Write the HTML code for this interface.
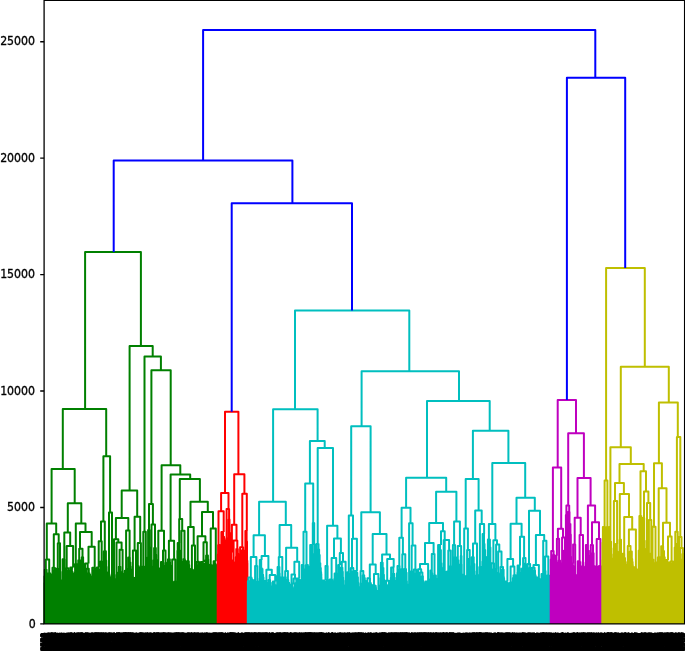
<!DOCTYPE html><html><head><meta charset="utf-8"><style>html,body{margin:0;padding:0;background:#fff;}body{width:685px;height:651px;overflow:hidden;}svg{display:block;}.t{font-family:"DejaVu Sans","Liberation Sans",sans-serif;}</style></head><body><svg width="685" height="651" viewBox="0 0 685 651"><rect width="685" height="651" fill="#fff"/><path fill="none" stroke="#008000" stroke-width="2.0" stroke-linejoin="round" d="M85.1 408.9V251.9H140.9V345.9M62.8 468.9V408.9H106.2V456.3M129.6 490.5V345.9H152.7V356.5M144.5 531.7V356.5H160.9V370.3M151.4 503.9V370.3H170.7V465.3M103.4 521.6V456.3H110.1V512.6M51.6 523.6V468.9H74.7V503.2M161.6 530.7V465.3H180.3V474.4M170.6 540.8V474.4H190.2V479M179.8 519.1V479H199.9V501.8M67.8 532.6V503.2H81.3V523.6M46.8 559.6V523.6H56.2V534.2M75.8 564V523.6H85.5V532M101 541.2V521.6H104.8V551.2M109 572.8V512.6H112V577.6M121.7 518.1V490.5H137.2V516.7M115.9 539.3V518.1H128.3V530.5M134.6 550.4V516.7H140.2V543M149 530V503.9H152.9V524.6M151.5 573.9V524.6H155V548M190.5 527V501.8H207.8V511.9M202 536.2V511.9H213V528.5M179.2 542.9V519.1H182.2V530.7M188.1 561.3V527H193.7V545.5M210.7 565V528.5H215.8V561.3M64.3 559.3V532.6H70.2V546M80 548.8V532H91.7V546.7M88.5 563.5V546.7H94.7V567.8M53.8 567.8V534.2H58.7V543.2M57.8 568.8V543.2H60V580.2M45.8 569.8V559.6H49.2V573.2M66.7 568.3V546H73.1V567.5M98.7 567.4V541.2H101.7V561.4M114 574.8V539.3H118.3V542.4M116.5 582.6V542.4H121.6V549.8M119.6 566.8V549.8H122.6V577.8M126.1 570.8V530.5H129.6V557.6M132.9 577.2V550.4H136V579.9M137.8 566.1V543H140.9V575.2M143.3 566.4V531.7H145.8V579.2M158.3 568V530.7H164V550.4M163 561.9V550.4H165.5V572.9M168.9 559.3V540.8H174.1V559.6M172.2 583.3V559.6H175.3V581.5M181.4 561.7V530.7H184.5V559M191.9 569.3V545.5H195V570.4M197.6 561.7V536.2H205.4V542.3M203.5 562V542.3H206.8V555.4M44.3 623.9V582.8H44.6V623.9M45.5 623.9V584.5H45.8V623.9M45.2 623.9V581.8H45.6V584.5M44.9 623.9V580.6H45.4V581.8M44.4 582.8V576.3H45.1V580.6M46.1 623.9V586.3H46.4V623.9M47 623.9V584.8H47.3V623.9M46.7 623.9V583.7H47.2V584.8M46.3 586.3V573.9H47V583.7M44.8 576.3V569.8H46.6V573.9M47.7 623.9V585H48V623.9M48.6 623.9V585.7H48.9V623.9M48.3 623.9V583.9H48.7V585.7M47.8 585V580.4H48.5V583.9M49.8 623.9V587.4H50.1V623.9M49.5 623.9V585.4H50V587.4M49.2 623.9V583.8H49.7V585.4M50.4 623.9V584.6H50.7V623.9M51 623.9V583.7H51.3V623.9M50.6 584.6V580.4H51.2V583.7M49.5 583.8V575.9H50.9V580.4M48.2 580.4V573.2H50.2V575.9M52.3 623.9V584.1H52.6V623.9M52 623.9V580.4H52.4V584.1M51.7 623.9V579.9H52.2V580.4M53.5 623.9V583.1H53.8V623.9M53.2 623.9V581.4H53.6V583.1M52.9 623.9V576.2H53.4V581.4M51.9 579.9V574.5H53.2V576.2M54.4 623.9V584H54.7V623.9M54.1 623.9V583.1H54.6V584M55.3 623.9V586.3H55.6V623.9M55 623.9V581.6H55.5V586.3M54.3 583.1V570.1H55.3V581.6M52.5 574.5V567.8H54.8V570.1M56.9 623.9V588.2H57.2V623.9M56.6 623.9V586.5H57V588.2M56.3 623.9V580.4H56.8V586.5M56 623.9V578.3H56.5V580.4M57.8 623.9V584.6H58.1V623.9M57.5 623.9V583.2H58V584.6M58.4 623.9V581.2H58.7V623.9M57.7 583.2V577H58.6V581.2M56.2 578.3V568.8H58.2V577M59.7 623.9V589.5H60V623.9M59.4 623.9V587.5H59.9V589.5M59.1 623.9V586.5H59.6V587.5M60.4 623.9V588.2H60.7V623.9M61 623.9V590.5H61.3V623.9M61.7 623.9V588.6H62V623.9M61.2 590.5V587.3H61.8V588.6M60.5 588.2V583.8H61.5V587.3M59.3 586.5V580.2H61V583.8M63.2 623.9V582.1H63.5V623.9M62.9 623.9V580.9H63.4V582.1M62.6 623.9V576.7H63.1V580.9M62.3 623.9V571.8H62.9V576.7M64.1 623.9V586.4H64.4V623.9M63.8 623.9V582.9H64.3V586.4M65 623.9V580.1H65.3V623.9M64.7 623.9V573.6H65.2V580.1M64.1 582.9V568.6H65V573.6M62.6 571.8V559.3H64.5V568.6M66 623.9V585.2H66.3V623.9M66.6 623.9V585.1H66.9V623.9M66.1 585.2V581.6H66.8V585.1M65.7 623.9V575.7H66.4V581.6M67.5 623.9V583.1H67.9V623.9M67.2 623.9V582.7H67.7V583.1M68.5 623.9V586.8H68.8V623.9M68.2 623.9V582.9H68.6V586.8M69.4 623.9V584.1H69.7V623.9M69.1 623.9V580.3H69.6V584.1M68.4 582.9V578.8H69.4V580.3M67.5 582.7V570.7H68.9V578.8M66 575.7V568.3H68.2V570.7M70.4 623.9V582.3H70.7V623.9M70.1 623.9V579.4H70.5V582.3M71.6 623.9V586H71.9V623.9M71.3 623.9V583.6H71.7V586M71 623.9V579.5H71.5V583.6M72.8 623.9V588H73.1V623.9M73.4 623.9V585.6H73.7V623.9M74 623.9V585.2H74.3V623.9M73.5 585.6V582.6H74.1V585.2M72.9 588V580.1H73.8V582.6M72.5 623.9V578.4H73.4V580.1M72.2 623.9V573.6H72.9V578.4M71.2 579.5V572H72.6V573.6M70.3 579.4V567.5H71.9V572M73.1 567.5H71.1M74.6 623.9V581.3H74.9V623.9M75.5 623.9V585.3H75.9V623.9M75.2 623.9V580H75.7V585.3M74.8 581.3V572.9H75.5V580M76.2 623.9V583.4H76.5V623.9M77.4 623.9V586.2H77.7V623.9M77.1 623.9V580.4H77.6V586.2M76.8 623.9V574.2H77.4V580.4M76.3 583.4V569.7H77.1V574.2M75.1 572.9V564H76.7V569.7M78.7 623.9V581.5H79V623.9M78.4 623.9V577.7H78.9V581.5M78.1 623.9V574H78.6V577.7M79.6 623.9V586.1H80V623.9M79.3 623.9V580.6H79.8V586.1M80.9 623.9V583.5H81.2V623.9M80.6 623.9V579.1H81.1V583.5M80.3 623.9V573.3H80.8V579.1M79.6 580.6V570.5H80.6V573.3M78.3 574V560.3H80.1V570.5M81.9 623.9V578.7H82.2V623.9M81.6 623.9V575H82V578.7M82.5 623.9V579.5H82.8V623.9M83.1 623.9V581.5H83.5V623.9M83.8 623.9V581.1H84.1V623.9M83.3 581.5V576H83.9V581.1M82.7 579.5V569.8H83.6V576M81.8 575V557.3H83.1V569.8M79.2 560.3V548.8H82.5V557.3M84.7 623.9V586.2H85V623.9M84.4 623.9V583.1H84.9V586.2M85.3 623.9V581.3H85.6V623.9M84.6 583.1V580.3H85.5V581.3M85.9 623.9V583H86.2V623.9M86.5 623.9V583.6H86.9V623.9M87.5 623.9V585.1H87.8V623.9M87.2 623.9V583.3H87.6V585.1M86.7 583.6V580.8H87.4V583.3M86.1 583V576.7H87V580.8M88.4 623.9V584.7H88.7V623.9M89 623.9V583.7H89.3V623.9M88.5 584.7V580.3H89.1V583.7M89.9 623.9V584.7H90.2V623.9M90.5 623.9V586.8H90.8V623.9M91.1 623.9V586.2H91.4V623.9M90.7 586.8V583.2H91.3V586.2M90.1 584.7V579.6H91V583.2M89.6 623.9V578.9H90.5V579.6M88.8 580.3V574.8H90.1V578.9M88.1 623.9V573.2H89.5V574.8M86.6 576.7V568.8H88.8V573.2M85.1 580.3V563.5H87.7V568.8M88.5 563.5H86.4M91.8 623.9V587H92.1V623.9M93.4 623.9V585.9H93.7V623.9M93 623.9V584.7H93.5V585.9M92.7 623.9V582.5H93.3V584.7M92.4 623.9V581.7H93V582.5M91.9 587V576.6H92.7V581.7M94.6 623.9V583.5H94.9V623.9M94.3 623.9V579.4H94.8V583.5M94 623.9V578.2H94.5V579.4M96.2 623.9V585.1H96.5V623.9M95.9 623.9V584H96.4V585.1M95.6 623.9V581.4H96.1V584M95.3 623.9V574.7H95.9V581.4M94.3 578.2V569.4H95.6V574.7M92.3 576.6V567.8H94.9V569.4M97.5 623.9V583.4H97.8V623.9M97.2 623.9V573.8H97.7V583.4M98.5 623.9V583.8H98.8V623.9M98.1 623.9V578.2H98.6V583.8M99.7 623.9V584.9H100V623.9M99.4 623.9V580.5H99.9V584.9M99.1 623.9V578.1H99.6V580.5M98.4 578.2V572.8H99.4V578.1M97.4 573.8V569.2H98.9V572.8M96.9 623.9V567.4H98.1V569.2M98.7 567.4H97.5M101 623.9V580.5H101.3V623.9M100.7 623.9V577.2H101.1V580.5M100.4 623.9V576.5H100.9V577.2M102.2 623.9V586.3H102.5V623.9M101.9 623.9V580.7H102.3V586.3M102.8 623.9V579.2H103.1V623.9M102.1 580.7V575.1H102.9V579.2M101.6 623.9V573.5H102.5V575.1M100.6 576.5V561.4H102V573.5M104 623.9V587.2H104.3V623.9M103.7 623.9V584.3H104.2V587.2M104.9 623.9V582.4H105.2V623.9M104.6 623.9V577.9H105.1V582.4M103.9 584.3V572.2H104.8V577.9M103.4 623.9V568.6H104.4V572.2M105.8 623.9V581.3H106.1V623.9M106.4 623.9V578H106.7V623.9M106 581.3V566.7H106.6V578M105.5 623.9V560.4H106.3V566.7M103.9 568.6V551.2H105.9V560.4M107.4 623.9V579.6H107.7V623.9M107.1 623.9V578.3H107.5V579.6M108 623.9V577.7H108.2V623.9M107.3 578.3V575H108.1V577.7M108.5 623.9V579.6H108.9V623.9M110 623.9V580.8H110.3V623.9M109.8 623.9V578.1H110.2V580.8M109.5 623.9V578H110V578.1M109.2 623.9V575.8H109.7V578M108.7 579.6V574.6H109.4V575.8M107.7 575V572.8H109.1V574.6M111.3 623.9V580.4H111.6V623.9M111 623.9V579.8H111.4V580.4M112.5 623.9V580.1H112.8V623.9M112.2 623.9V579.3H112.7V580.1M111.9 623.9V579H112.5V579.3M111.2 579.8V578.3H112.2V579M110.7 623.9V577.6H111.7V578.3M112 577.6H111.2M113.2 623.9V581H113.5V623.9M113.8 623.9V582H114.1V623.9M114.8 623.9V581H115.1V623.9M114.4 623.9V579.3H114.9V581M114 582V578.9H114.7V579.3M113.3 581V574.8H114.3V578.9M116 623.9V583.2H116.3V623.9M115.7 623.9V583H116.2V583.2M115.4 623.9V582.7H116V583M117.6 623.9V583.4H117.9V623.9M117.3 623.9V583.1H117.7V583.4M117 623.9V583H117.5V583.1M116.7 623.9V582.7H117.2V583M115.7 582.7V582.6H116.9V582.7M118.5 623.9V580.1H118.8V623.9M118.2 623.9V577.2H118.7V580.1M119.4 623.9V579.2H119.7V623.9M119.1 623.9V575.2H119.6V579.2M118.4 577.2V572.5H119.3V575.2M120.6 623.9V577.5H120.9V623.9M120.3 623.9V576.9H120.8V577.5M120 623.9V571.4H120.6V576.9M118.9 572.5V566.8H120.3V571.4M122.2 623.9V578.6H122.6V623.9M121.9 623.9V578.6H122.4V578.6M121.6 623.9V578.4H122.2V578.6M121.3 623.9V578.2H121.9V578.4M122.9 623.9V578.6H123.2V623.9M123.9 623.9V578.7H124.2V623.9M123.5 623.9V578.6H124V578.7M123 578.6V578.1H123.8V578.6M121.6 578.2V577.8H123.4V578.1M124.8 623.9V575.5H125.1V623.9M125.5 623.9V574.6H125.8V623.9M125 575.5V573.9H125.6V574.6M124.5 623.9V573.4H125.3V573.9M126.4 623.9V574.6H126.7V623.9M127.4 623.9V575H127.7V623.9M127.1 623.9V573.4H127.5V575M126.6 574.6V572.8H127.3V573.4M126.1 623.9V571.7H126.9V572.8M124.9 573.4V570.8H126.5V571.7M128.3 623.9V570.6H128.6V623.9M128 623.9V568.6H128.5V570.6M129.2 623.9V572.8H129.6V623.9M128.9 623.9V569H129.4V572.8M129.9 623.9V569.6H130.2V623.9M130.8 623.9V571.5H131.1V623.9M130.5 623.9V568.9H130.9V571.5M130 569.6V566.5H130.7V568.9M129.2 569V562.5H130.4V566.5M128.2 568.6V557.6H129.8V562.5M132.1 623.9V577.8H132.4V623.9M131.7 623.9V577.8H132.2V577.8M131.4 623.9V577.6H132V577.8M133 623.9V578.1H133.3V623.9M134 623.9V577.9H134.3V623.9M133.6 623.9V577.8H134.1V577.9M133.2 578.1V577.7H133.9V577.8M132.7 623.9V577.4H133.5V577.7M131.7 577.6V577.2H133.1V577.4M134.9 623.9V580.8H135.2V623.9M134.6 623.9V580.6H135.1V580.8M135.8 623.9V580.7H136.1V623.9M135.5 623.9V580.7H136V580.7M136.4 623.9V580.6H136.7V623.9M135.8 580.7V580.1H136.6V580.6M134.8 580.6V579.9H136.2V580.1M137.1 623.9V568.9H137.4V623.9M137.7 623.9V568.4H138V623.9M137.2 568.9V568.2H137.8V568.4M138.9 623.9V569.4H139.2V623.9M138.6 623.9V567.6H139V569.4M138.3 623.9V566.7H138.8V567.6M137.5 568.2V566.1H138.5V566.7M139.8 623.9V576.2H140.1V623.9M140.4 623.9V576H140.7V623.9M140 576.2V575.8H140.6V576M141.6 623.9V576.2H141.9V623.9M141.3 623.9V575.9H141.8V576.2M141 623.9V575.6H141.6V575.9M140.3 575.8V575.5H141.3V575.6M139.5 623.9V575.2H140.8V575.5M140.9 575.2H140.1M142.3 623.9V572.2H142.6V623.9M142.9 623.9V571.1H143.2V623.9M142.4 572.2V569.9H143V571.1M143.5 623.9V571.1H143.8V623.9M144.1 623.9V570H144.4V623.9M143.6 571.1V567.2H144.2V570M142.7 569.9V566.4H143.9V567.2M145 623.9V580.1H145.3V623.9M146 623.9V580.1H146.3V623.9M145.7 623.9V579.9H146.1V580.1M145.2 580.1V579.6H145.9V579.9M146.9 623.9V579.7H147.2V623.9M146.6 623.9V579.5H147.1V579.7M145.5 579.6V579.3H146.8V579.5M144.7 623.9V579.2H146.2V579.3M147.6 623.9V564.1H147.9V623.9M148.5 623.9V565.4H148.8V623.9M148.2 623.9V560H148.7V565.4M147.7 564.1V557.4H148.4V560M149.8 623.9V574.4H150.1V623.9M149.5 623.9V562.7H149.9V574.4M149.1 623.9V547.4H149.7V562.7M148.1 557.4V530H149.4V547.4M151 623.9V574.9H151.3V623.9M150.7 623.9V574.4H151.2V574.9M151.9 623.9V574.7H152.2V623.9M151.6 623.9V574.6H152.1V574.7M152.8 623.9V574.7H153.1V623.9M152.5 623.9V574.5H152.9V574.7M151.8 574.6V574.3H152.7V574.5M150.9 574.4V574.1H152.3V574.3M150.4 623.9V573.9H151.6V574.1M153.7 623.9V569.9H154V623.9M153.4 623.9V566.3H153.9V569.9M154.6 623.9V566.6H154.9V623.9M154.3 623.9V560.8H154.8V566.6M153.6 566.3V560.2H154.6V560.8M155.3 623.9V565.9H155.6V623.9M156.2 623.9V566.7H156.5V623.9M155.9 623.9V559.5H156.3V566.7M155.4 565.9V554.8H156.1V559.5M154.1 560.2V548H155.8V554.8M156.8 623.9V569.6H157.1V623.9M157.4 623.9V569.4H157.7V623.9M157 569.6V569H157.6V569.4M158 623.9V569.2H158.3V623.9M159 623.9V570H159.3V623.9M158.7 623.9V569.8H159.1V570M160.2 623.9V569.9H160.5V623.9M159.9 623.9V569.6H160.3V569.9M159.6 623.9V569.4H160.1V569.6M158.9 569.8V569.1H159.8V569.4M158.2 569.2V568.5H159.4V569.1M157.3 569V568H158.8V568.5M160.8 623.9V569.1H161.1V623.9M161.4 623.9V570.4H161.7V623.9M162 623.9V569.3H162.3V623.9M161.6 570.4V567.2H162.2V569.3M162.9 623.9V569.6H163.2V623.9M162.6 623.9V569.3H163.1V569.6M163.8 623.9V569.1H164.1V623.9M163.5 623.9V568H163.9V569.1M162.8 569.3V565.7H163.7V568M161.8 567.2V562.7H163.3V565.7M161 569.1V561.9H162.6V562.7M163 561.9H161.8M164.7 623.9V573.9H165.1V623.9M165.4 623.9V573.6H165.7V623.9M164.9 573.9V573.5H165.6V573.6M164.4 623.9V573.3H165.2V573.5M166.7 623.9V574H167V623.9M166.4 623.9V573.5H166.9V574M166.1 623.9V573.3H166.6V573.5M164.8 573.3V572.9H166.3V573.3M167.4 623.9V566.8H167.7V623.9M168 623.9V566.4H168.3V623.9M168.9 623.9V568H169.2V623.9M168.6 623.9V565.9H169V568M168.1 566.4V564.6H168.8V565.9M167.5 566.8V562.6H168.5V564.6M170.1 623.9V567.4H170.4V623.9M169.8 623.9V565.2H170.2V567.4M169.5 623.9V562.3H170V565.2M168 562.6V559.3H169.8V562.3M171 623.9V584.1H171.4V623.9M170.7 623.9V583.7H171.2V584.1M172.3 623.9V583.9H172.6V623.9M172 623.9V583.8H172.5V583.9M173.3 623.9V583.9H173.6V623.9M172.9 623.9V583.7H173.4V583.9M172.2 583.8V583.6H173.2V583.7M171.7 623.9V583.4H172.7V583.6M171 583.7V583.3H172.2V583.4M172.2 583.3H171.6M174.5 623.9V582.2H174.9V623.9M174.2 623.9V582.1H174.7V582.2M175.2 623.9V582.1H175.5V623.9M174.5 582.1V582H175.3V582.1M173.9 623.9V581.9H174.9V582M175.8 623.9V582.2H176.1V623.9M176.8 623.9V582.3H177.1V623.9M176.5 623.9V582.1H176.9V582.3M176 582.2V581.7H176.7V582.1M174.4 581.9V581.5H176.3V581.7M178 623.9V567.5H178.3V623.9M177.7 623.9V563.7H178.2V567.5M177.4 623.9V550.7H177.9V563.7M178.6 623.9V569.7H178.9V623.9M179.8 623.9V568.7H180.1V623.9M179.5 623.9V561.9H180V568.7M179.2 623.9V559H179.8V561.9M178.8 569.7V550.6H179.5V559M177.7 550.7V542.9H179.1V550.6M179.2 542.9H178.4M180.5 623.9V571H180.8V623.9M181.1 623.9V566.6H181.5V623.9M180.6 571V565.7H181.3V566.6M181.8 623.9V568.4H182.1V623.9M182.5 623.9V566.5H182.8V623.9M182 568.4V564.3H182.6V566.5M181 565.7V561.7H182.3V564.3M183.1 623.9V568.7H183.4V623.9M183.7 623.9V567.7H184V623.9M183.3 568.7V563.6H183.9V567.7M184.9 623.9V572.3H185.2V623.9M184.6 623.9V569.1H185.1V572.3M185.8 623.9V569.6H186.1V623.9M185.5 623.9V566.8H186V569.6M184.9 569.1V564.9H185.8V566.8M184.3 623.9V560.5H185.3V564.9M183.6 563.6V559H184.8V560.5M186.5 623.9V572.5H186.8V623.9M187.1 623.9V573.3H187.4V623.9M187.7 623.9V571.1H188V623.9M187.2 573.3V570.2H187.8V571.1M186.6 572.5V569.4H187.5V570.2M188.3 623.9V569.1H188.6V623.9M189.5 623.9V574.1H189.8V623.9M189.2 623.9V572.5H189.7V574.1M188.9 623.9V568.8H189.5V572.5M188.5 569.1V564.9H189.2V568.8M187.1 569.4V561.3H188.8V564.9M190.5 623.9V570.1H190.8V623.9M190.2 623.9V569.9H190.6V570.1M191.7 623.9V570.4H192V623.9M191.4 623.9V570.3H191.9V570.4M191.1 623.9V570.2H191.6V570.3M193 623.9V570.2H193.3V623.9M192.7 623.9V570.2H193.1V570.2M192.4 623.9V569.9H192.9V570.2M191.4 570.2V569.6H192.6V569.9M190.4 569.9V569.3H192V569.6M194.6 623.9V575.3H194.9V623.9M194.2 623.9V574.4H194.7V575.3M193.9 623.9V573.6H194.5V574.4M193.6 623.9V573.4H194.2V573.6M195.8 623.9V574.2H196.1V623.9M195.5 623.9V573.3H196V574.2M195.2 623.9V572.2H195.7V573.3M193.9 573.4V570.4H195.5V572.2M196.8 623.9V571.1H197.1V623.9M197.4 623.9V569.8H197.7V623.9M196.9 571.1V569.4H197.5V569.8M196.5 623.9V568.2H197.2V569.4M198.6 623.9V571.5H198.9V623.9M198.3 623.9V570H198.7V571.5M198 623.9V569.4H198.5V570M199.5 623.9V570.8H199.8V623.9M200.1 623.9V569.9H200.4V623.9M199.6 570.8V568.7H200.2V569.9M199.2 623.9V567.5H199.9V568.7M198.2 569.4V565.2H199.6V567.5M196.8 568.2V561.7H198.9V565.2M201 623.9V568.3H201.3V623.9M200.7 623.9V567.7H201.2V568.3M201.6 623.9V569.9H201.9V623.9M202.5 623.9V569.6H202.9V623.9M202.2 623.9V568.8H202.7V569.6M201.8 569.9V567H202.5V568.8M203.2 623.9V568.6H203.5V623.9M204.1 623.9V570.4H204.4V623.9M204.7 623.9V569.9H205V623.9M204.2 570.4V567.8H204.8V569.9M203.8 623.9V566.2H204.5V567.8M203.3 568.6V565.7H204.2V566.2M202.1 567V563.8H203.7V565.7M200.9 567.7V562H202.9V563.8M203.5 562H201.9M205.6 623.9V565.1H205.9V623.9M205.3 623.9V564.8H205.8V565.1M206.2 623.9V565.5H206.5V623.9M206.8 623.9V563.7H207.1V623.9M206.3 565.5V561.1H206.9V563.7M205.5 564.8V560.2H206.7V561.1M207.4 623.9V565.2H207.7V623.9M208.3 623.9V566.6H208.6V623.9M208 623.9V564.1H208.4V566.6M207.6 565.2V559.4H208.2V564.1M206.1 560.2V555.4H207.9V559.4M209.9 623.9V570.9H210.2V623.9M209.6 623.9V570.1H210V570.9M209.2 623.9V569.2H209.8V570.1M208.9 623.9V567.6H209.5V569.2M210.5 623.9V570.5H210.8V623.9M211.2 623.9V569.5H211.5V623.9M210.7 570.5V568.9H211.3V569.5M212.1 623.9V570.8H212.4V623.9M212.8 623.9V570.8H213.1V623.9M212.3 570.8V569.3H212.9V570.8M211.8 623.9V567.8H212.6V569.3M211 568.9V566.7H212.2V567.8M209.2 567.6V565H211.6V566.7M213.4 623.9V565.4H213.7V623.9M214 623.9V568.7H214.3V623.9M214.9 623.9V567.9H215.2V623.9M214.6 623.9V566.7H215.1V567.9M216.1 623.9V568.4H216.4V623.9M215.8 623.9V567.5H216.3V568.4M215.5 623.9V567.1H216.1V567.5M217 623.9V567.7H217.3V623.9M216.7 623.9V567H217.2V567.7M215.8 567.1V565.5H217V567M214.8 566.7V564.9H216.4V565.5M214.2 568.7V563.9H215.6V564.9M213.6 565.4V561.3H214.9V563.9M215.8 561.3H214.2"/><path fill="none" stroke="#ff0000" stroke-width="2.0" stroke-linejoin="round" d="M225 493V411.7H238.4V474.3M234.2 524.8V474.3H244.4V493.8M221.1 511.2V493H228.5V509M218.5 545V511.2H223.7V532M242.3 547.2V493.8H246.8V531M231.9 552.4V524.8H236.5V540.5M233.6 562.7V540.5H237.3V549M240.1 559.3V547.2H243.1V550.3M218 623.9V564.7H218.3V623.9M218.6 623.9V563.6H219V623.9M218.2 564.7V557.9H218.8V563.6M217.7 623.9V554.6H218.5V557.9M220 623.9V567.6H220.3V623.9M219.6 623.9V563.6H220.1V567.6M220.6 623.9V563.2H220.9V623.9M219.9 563.6V558.1H220.8V563.2M219.3 623.9V549.8H220.3V558.1M218.1 554.6V545H219.8V549.8M221.3 623.9V557.6H221.6V623.9M222.6 623.9V565.2H222.9V623.9M222.3 623.9V557.8H222.8V565.2M221.9 623.9V547.4H222.5V557.8M223.3 623.9V553.2H223.6V623.9M223.9 623.9V559.4H224.3V623.9M224.6 623.9V567.2H224.9V623.9M225.6 623.9V562.8H225.9V623.9M225.3 623.9V561.4H225.8V562.8M224.8 567.2V556.4H225.5V561.4M224.1 559.4V550.8H225.1V556.4M223.4 553.2V540.3H224.6V550.8M222.2 547.4V536.7H224V540.3M221.4 557.6V532H223.1V536.7M223.7 532H222.3M228 623.9V567.8H228.3V623.9M227.6 623.9V563.5H228.1V567.8M227.3 623.9V557.5H227.9V563.5M227 623.9V546.6H227.6V557.5M226.6 623.9V542.7H227.3V546.6M226.3 623.9V538.2H226.9V542.7M229 623.9V564.6H229.3V623.9M229.7 623.9V560.6H230V623.9M229.2 564.6V532.7H229.9V560.6M228.7 623.9V519.6H229.5V532.7M226.6 538.2V509H229.1V519.6M230.7 623.9V566.4H231V623.9M232.3 623.9V569.8H232.6V623.9M232 623.9V569.1H232.4V569.8M231.6 623.9V566.9H232.2V569.1M231.3 623.9V564.6H231.9V566.9M230.8 566.4V560H231.6V564.6M230.4 623.9V552.4H231.2V560M231.9 552.4H230.8M233.3 623.9V569.2H233.6V623.9M232.9 623.9V567.9H233.4V569.2M233.9 623.9V568.6H234.3V623.9M234.9 623.9V568.4H235.3V623.9M234.6 623.9V565.9H235.1V568.4M234.1 568.6V564.5H234.9V565.9M233.2 567.9V562.7H234.5V564.5M235.9 623.9V565.4H236.3V623.9M235.6 623.9V562.1H236.1V565.4M236.9 623.9V564.3H237.2V623.9M236.6 623.9V558.3H237.1V564.3M235.9 562.1V557.1H236.8V558.3M238.2 623.9V560.7H238.5V623.9M237.9 623.9V558.9H238.4V560.7M237.6 623.9V553.4H238.1V558.9M236.3 557.1V549H237.8V553.4M239.2 623.9V567.3H239.5V623.9M238.9 623.9V564.4H239.3V567.3M240.1 623.9V567.6H240.5V623.9M239.8 623.9V565.1H240.3V567.6M241.1 623.9V568.4H241.4V623.9M240.8 623.9V564.5H241.3V568.4M240.1 565.1V562.7H241V564.5M239.1 564.4V559.3H240.6V562.7M242.1 623.9V569.6H242.4V623.9M241.8 623.9V567.3H242.3V569.6M242.8 623.9V564.8H243.1V623.9M243.8 623.9V567.6H244.1V623.9M244.4 623.9V565.5H244.8V623.9M243.9 567.6V564.6H244.6V565.5M243.4 623.9V559.2H244.3V564.6M242.9 564.8V554.7H243.9V559.2M242 567.3V550.3H243.4V554.7M245.4 623.9V563.5H245.8V623.9M245.1 623.9V552.4H245.6V563.5M246.1 623.9V569H246.4V623.9M247.1 623.9V563.2H247.4V623.9M246.8 623.9V560.7H247.3V563.2M246.3 569V541.5H247V560.7M245.4 552.4V531H246.6V541.5M246.8 531H246"/><path fill="none" stroke="#00bfbf" stroke-width="2.0" stroke-linejoin="round" d="M295 409.3V310.6H409.3V371.2M361.6 426.3V371.2H459V400.9M273.1 501.7V409.3H317.6V441.1M309.9 483.6V441.1H324.7V448.1M317.7 544V448.1H333V525.8M305.2 531.8V483.6H313.2V522.9M259.1 535.3V501.7H285.8V524.9M253.6 556.9V535.3H264.9V555.9M279.6 556.9V524.9H291.2V547.7M286.1 570.9V547.7H297.2V561.8M351.2 515.6V426.3H370.6V512.2M427 477.7V400.9H489.7V430.8M472.9 478.9V430.8H508.4V462.9M492.3 524V462.9H525.2V497.7M465.7 528.4V478.9H478.6V510.5M406.1 507.7V477.7H446.2V491.8M401.6 537.7V507.7H410.5V523.2M436.1 522.9V491.8H456.4V521.5M429.2 543V522.9H443V531.2M454.1 545V521.5H459.9V546M409.1 584.8V523.2H412.6V545.6M399.3 566.1V537.7H402.9V554.2M425 563.9V543H433.6V553.9M441 545V531.2H444.7V571.8M475.2 543.5V510.5H481.7V523.9M464.2 574.7V528.4H467.9V550M479.9 567V523.9H484.1V534M516.5 523.7V497.7H534.8V510.8M529 563.9V510.8H540V535M510.6 559.1V523.7H521.6V536.8M488.9 539.6V524H495.4V540.3M535.9 565V535H544.2V540.8M520 565.4V536.8H524.1V558M327.1 566V525.8H337.4V538.4M334 558V538.4H340.9V553M339.8 565V553H343V561.8M348.8 572.3V515.6H353V538.7M361.3 570.9V512.2H379.9V533.9M372.7 564.5V533.9H386.5V554.6M382.1 562.8V554.6H390V559.1M312.8 545V522.9H314.2V545M303.5 565V531.8H306.5V565M250.8 577.5V556.9H256.4V566M261.6 560V555.9H268.4V569.8M266.4 581V569.8H271.8V575M255.1 580.2V566H257.3V581.6M278.8 567.1V556.9H282.3V577.5M294.4 574.4V561.8H299.2V578.6M285.2 577.2V570.9H287.9V580.1M269.7 580.1V575H275.2V581.4M325.5 580.6V566H327.6V579.9M331.6 579.6V558H336.2V573.6M341.8 567.7V561.8H345.6V585.7M352 568.1V538.7H356.9V571M360.6 590.7V570.9H363.3V575.3M369.8 578.3V564.5H375.7V574.1M374 585.2V574.1H378.4V591M387.2 580.8V559.1H393.7V567.4M402.3 569.3V554.2H405.3V569M411.7 571.4V545.6H415.4V569.5M420 569.2V563.9H428.1V581.4M431.8 570.6V553.9H434.5V575.6M443.7 573V540H449.1V550.5M448.3 571.6V550.5H450.7V566.2M467.1 576.3V550H469.7V558.9M473 557.2V543.5H477V575.7M493.4 563.2V540.3H497V544.6M496.1 569.2V544.6H499.3V551.6M498.2 572.8V551.6H501.5V567.1M507.4 581.5V559.1H513.1V566.6M510.6 583.1V566.6H514.4V575.3M523.1 568.4V558H525.5V563.6M527.7 577.9V563.9H530.1V568.1M533.5 567.8V565H538.9V577.5M543.2 574.1V540.8H546.4V556.4M545.1 571.1V556.4H548.3V575.5M247.8 623.9V590.2H248.1V623.9M248.7 623.9V594.1H249V623.9M248.4 623.9V590.9H248.9V594.1M250 623.9V592.9H250.3V623.9M249.6 623.9V590.3H250.1V592.9M249.3 623.9V588.8H249.9V590.3M248.6 590.9V585.8H249.6V588.8M247.9 590.2V581H249.1V585.8M250.9 623.9V591.9H251.2V623.9M250.6 623.9V588.6H251.1V591.9M251.8 623.9V593.2H252.2V623.9M251.5 623.9V590.4H252V593.2M252.5 623.9V589.4H252.8V623.9M251.8 590.4V584.3H252.6V589.4M250.8 588.6V579.3H252.2V584.3M248.5 581V577.5H251.5V579.3M253.1 623.9V594.2H253.4V623.9M253.8 623.9V592.2H254.1V623.9M253.3 594.2V588.3H253.9V592.2M254.4 623.9V590.4H254.7V623.9M255.7 623.9V592H256V623.9M255.4 623.9V590.2H255.9V592M255.1 623.9V586H255.6V590.2M254.6 590.4V583.5H255.3V586M253.6 588.3V580.2H255V583.5M255.1 580.2H254.3M256.7 623.9V593.8H257V623.9M256.4 623.9V590.8H256.9V593.8M257.7 623.9V594H258V623.9M257.3 623.9V590.9H257.8V594M259 623.9V595.1H259.3V623.9M258.6 623.9V589.9H259.1V595.1M258.3 623.9V588.4H258.9V589.9M257.6 590.9V584.2H258.6V588.4M256.6 590.8V581.6H258.1V584.2M259.9 623.9V589.6H260.2V623.9M259.6 623.9V578.5H260.1V589.6M261.1 623.9V591.8H261.4V623.9M260.8 623.9V586.6H261.3V591.8M262 623.9V591.8H262.3V623.9M261.7 623.9V584.7H262.2V591.8M262.6 623.9V594.2H262.9V623.9M263.5 623.9V588.6H263.8V623.9M263.2 623.9V586.9H263.7V588.6M262.8 594.2V577.6H263.5V586.9M262 584.7V574.7H263.1V577.6M261 586.6V569.1H262.5V574.7M260.5 623.9V568.2H261.8V569.1M259.8 578.5V560H261.2V568.2M261.6 560H260.5M264.2 623.9V590.4H264.5V623.9M265.1 623.9V590.8H265.4V623.9M264.8 623.9V588.3H265.2V590.8M264.3 590.4V586.6H265V588.3M265.7 623.9V589.4H266V623.9M266.6 623.9V590H267V623.9M267.6 623.9V591.9H267.9V623.9M267.3 623.9V588.5H267.7V591.9M266.8 590V586.6H267.5V588.5M266.3 623.9V584.6H267.2V586.6M265.9 589.4V582.6H266.7V584.6M264.7 586.6V581H266.3V582.6M266.4 581H265.5M268.8 623.9V593H269.1V623.9M268.5 623.9V589.1H269V593M268.2 623.9V587.5H268.8V589.1M270.1 623.9V590.5H270.4V623.9M269.8 623.9V589.2H270.2V590.5M270.7 623.9V591.3H271V623.9M271.3 623.9V592.7H271.7V623.9M272 623.9V590.9H272.3V623.9M271.5 592.7V589.3H272.1V590.9M270.9 591.3V586.9H271.8V589.3M270 589.2V586.3H271.3V586.9M269.5 623.9V582.7H270.7V586.3M268.5 587.5V580.1H270.1V582.7M273.2 623.9V590.9H273.5V623.9M272.9 623.9V589.1H273.4V590.9M272.6 623.9V587.3H273.1V589.1M274.1 623.9V591.9H274.4V623.9M273.8 623.9V590.1H274.3V591.9M274.7 623.9V592.9H275V623.9M275.9 623.9V594H276.2V623.9M275.6 623.9V592.3H276.1V594M276.5 623.9V591.5H276.8V623.9M275.9 592.3V590.2H276.7V591.5M275.3 623.9V588.1H276.3V590.2M274.9 592.9V587H275.8V588.1M274 590.1V584.9H275.3V587M272.9 587.3V581.4H274.7V584.9M275.2 581.4H273.8M277.5 623.9V590.9H277.8V623.9M278.5 623.9V592H278.8V623.9M278.1 623.9V585.9H278.6V592M277.6 590.9V580.7H278.4V585.9M277.2 623.9V575.7H278V580.7M280.1 623.9V593H280.4V623.9M279.7 623.9V589.2H280.2V593M279.4 623.9V579.6H280V589.2M279.1 623.9V573.5H279.7V579.6M277.6 575.7V567.1H279.4V573.5M281.4 623.9V590.2H281.7V623.9M281 623.9V589.5H281.5V590.2M280.7 623.9V586.4H281.3V589.5M282 623.9V591.5H282.3V623.9M283.3 623.9V593H283.6V623.9M282.9 623.9V587.6H283.4V593M282.6 623.9V584H283.2V587.6M282.1 591.5V582.1H282.9V584M281 586.4V577.5H282.5V582.1M284.8 623.9V592.6H285.1V623.9M284.5 623.9V589.4H285V592.6M284.2 623.9V585.5H284.8V589.4M283.9 623.9V582.8H284.5V585.5M286.1 623.9V588.8H286.4V623.9M285.8 623.9V584.6H286.2V588.8M285.5 623.9V579.8H286V584.6M284.2 582.8V577.2H285.7V579.8M287 623.9V590.6H287.3V623.9M286.7 623.9V587.4H287.2V590.6M288.2 623.9V593.9H288.5V623.9M287.9 623.9V589.8H288.4V593.9M288.8 623.9V592.6H289.2V623.9M289.8 623.9V593.4H290.1V623.9M289.5 623.9V591.4H289.9V593.4M289 592.6V590.5H289.7V591.4M290.7 623.9V593.7H291V623.9M290.4 623.9V590.4H290.8V593.7M289.3 590.5V587.4H290.6V590.4M288.2 589.8V584.5H290V587.4M287.6 623.9V582.7H289.1V584.5M286.9 587.4V580.1H288.3V582.7M291.3 623.9V587.8H291.6V623.9M292.9 623.9V593.5H293.2V623.9M292.6 623.9V592.5H293V593.5M292.2 623.9V591.1H292.8V592.5M293.8 623.9V591.7H294.1V623.9M293.5 623.9V591.1H294V591.7M292.5 591.1V589.5H293.7V591.1M291.9 623.9V588.4H293.1V589.5M294.4 623.9V592.2H294.8V623.9M295.4 623.9V591H295.7V623.9M295.1 623.9V589.1H295.5V591M294.6 592.2V586.9H295.3V589.1M292.5 588.4V583.4H295V586.9M296.3 623.9V590.5H296.6V623.9M296 623.9V583H296.5V590.5M293.7 583.4V578.4H296.3V583M291.5 587.8V574.4H295V578.4M297 623.9V586.1H297.3V623.9M297.6 623.9V586.9H297.9V623.9M298.2 623.9V587.1H298.5V623.9M299.1 623.9V588.9H299.4V623.9M299.7 623.9V588.2H300V623.9M299.2 588.9V587.5H299.8V588.2M298.8 623.9V585.5H299.5V587.5M298.3 587.1V584.9H299.2V585.5M300.9 623.9V589.8H301.2V623.9M300.6 623.9V586.8H301V589.8M300.3 623.9V584.6H300.8V586.8M298.7 584.9V582.4H300.6V584.6M297.7 586.9V579.7H299.6V582.4M297.1 586.1V578.6H298.7V579.7M299.2 578.6H297.9M302.1 623.9V589H302.4V623.9M301.8 623.9V585H302.3V589M301.5 623.9V579.5H302V585M303.3 623.9V583H303.6V623.9M303 623.9V582.6H303.5V583M302.7 623.9V579.3H303.3V582.6M303.9 623.9V585.3H304.2V623.9M304.5 623.9V578.2H304.8V623.9M304.1 585.3V574.7H304.7V578.2M303 579.3V569.3H304.4V574.7M301.8 579.5V565H303.7V569.3M305.5 623.9V586.8H305.8V623.9M305.2 623.9V585.5H305.6V586.8M306.4 623.9V587.4H306.7V623.9M306.1 623.9V581.5H306.6V587.4M305.4 585.5V579.2H306.3V581.5M307.3 623.9V589.6H307.6V623.9M307 623.9V582.4H307.5V589.6M307.9 623.9V584H308.3V623.9M309.2 623.9V585.7H309.5V623.9M308.9 623.9V583.6H309.3V585.7M308.6 623.9V582.1H309.1V583.6M308.1 584V577.7H308.8V582.1M307.2 582.4V570.4H308.5V577.7M305.9 579.2V565H307.9V570.4M310.1 623.9V586.8H310.5V623.9M310.8 623.9V577.5H311.1V623.9M310.3 586.8V571.8H310.9V577.5M309.8 623.9V566.5H310.6V571.8M311.4 623.9V567.6H311.7V623.9M312.4 623.9V583.8H312.7V623.9M313 623.9V577.9H313.3V623.9M312.5 583.8V573.2H313.2V577.9M312.1 623.9V562.3H312.9V573.2M311.6 567.6V559.7H312.5V562.3M310.2 566.5V545H312V559.7M312.8 545H311.1M313.7 623.9V573.5H314V623.9M314.6 623.9V575.7H314.9V623.9M314.3 623.9V569.5H314.7V575.7M313.8 573.5V553.9H314.5V569.5M315.5 623.9V586.6H315.8V623.9M315.2 623.9V547.1H315.6V586.6M314.2 553.9V545H315.4V547.1M317.4 623.9V577.4H317.7V623.9M317 623.9V575.7H317.5V577.4M316.7 623.9V574.8H317.3V575.7M316.4 623.9V564.2H317V574.8M316.1 623.9V558.6H316.7V564.2M318.3 623.9V571.6H318.6V623.9M318.9 623.9V569.6H319.2V623.9M319.9 623.9V581.9H320.2V623.9M319.6 623.9V576.2H320V581.9M321.1 623.9V577.3H321.4V623.9M320.8 623.9V574.1H321.3V577.3M320.5 623.9V571.9H321.1V574.1M319.8 576.2V568.1H320.8V571.9M319.1 569.6V563.3H320.3V568.1M318.5 571.6V554.9H319.7V563.3M318 623.9V549.6H319.1V554.9M316.4 558.6V544H318.5V549.6M322.4 623.9V588H322.7V623.9M322.1 623.9V586.6H322.5V588M321.8 623.9V585.1H322.3V586.6M323.3 623.9V588H323.6V623.9M324.2 623.9V589.1H324.5V623.9M323.9 623.9V586.7H324.4V589.1M323.5 588V586.3H324.2V586.7M323 623.9V584.8H323.8V586.3M325.5 623.9V588.6H325.8V623.9M325.2 623.9V588H325.6V588.6M324.8 623.9V586.9H325.4V588M326.1 623.9V586H326.4V623.9M325.1 586.9V583.3H326.2V586M323.4 584.8V582H325.7V583.3M322 585.1V580.6H324.5V582M325.5 580.6H323.3M327 623.9V584.7H327.3V623.9M326.7 623.9V582.8H327.2V584.7M328.2 623.9V586H328.5V623.9M327.9 623.9V584.6H328.4V586M329.1 623.9V585.5H329.4V623.9M328.8 623.9V584.4H329.3V585.5M328.2 584.6V582.1H329.1V584.4M327.6 623.9V580.3H328.6V582.1M326.9 582.8V579.9H328.1V580.3M330.1 623.9V586.8H330.4V623.9M330.7 623.9V586H331V623.9M330.2 586.8V585.5H330.8V586M331.3 623.9V585.5H331.6V623.9M331.9 623.9V585.3H332.2V623.9M331.4 585.5V584.2H332.1V585.3M330.5 585.5V583.3H331.8V584.2M333.4 623.9V585.6H333.7V623.9M333.1 623.9V584.5H333.6V585.6M332.8 623.9V584H333.4V584.5M332.5 623.9V582H333.1V584M331.1 583.3V581.1H332.8V582M329.8 623.9V579.6H332V581.1M334.1 623.9V583.1H334.4V623.9M335 623.9V583.9H335.3V623.9M334.7 623.9V581.2H335.2V583.9M334.2 583.1V579.1H334.9V581.2M335.6 623.9V586.2H335.9V623.9M336.3 623.9V584.9H336.6V623.9M335.8 586.2V583.6H336.4V584.9M337.5 623.9V583.7H337.8V623.9M337.2 623.9V581.9H337.7V583.7M336.9 623.9V578H337.4V581.9M336.1 583.6V576H337.2V578M334.6 579.1V573.6H336.6V576M338.2 623.9V583.4H338.5V623.9M339.1 623.9V581.2H339.4V623.9M340.3 623.9V587.4H340.6V623.9M340 623.9V581.2H340.5V587.4M339.7 623.9V578.5H340.3V581.2M339.2 581.2V574H340V578.5M338.8 623.9V567.6H339.6V574M338.3 583.4V565H339.2V567.6M339.8 565H338.8M341.3 623.9V579.4H341.6V623.9M341 623.9V572.5H341.4V579.4M342.2 623.9V584H342.6V623.9M343.2 623.9V587.6H343.5V623.9M342.9 623.9V580.5H343.4V587.6M342.4 584V577.4H343.1V580.5M341.9 623.9V571.7H342.8V577.4M341.2 572.5V567.7H342.4V571.7M344.2 623.9V587.2H344.5V623.9M343.9 623.9V586.9H344.3V587.2M345.1 623.9V587.4H345.5V623.9M344.8 623.9V586.6H345.3V587.4M344.1 586.9V586.3H345.1V586.6M346.7 623.9V587.6H347V623.9M346.4 623.9V587.1H346.9V587.6M346.1 623.9V587H346.6V587.1M345.8 623.9V586.3H346.4V587M344.6 586.3V585.7H346.1V586.3M348.3 623.9V587.2H348.6V623.9M348 623.9V582.2H348.5V587.2M347.7 623.9V579.4H348.2V582.2M349.3 623.9V584.9H349.6V623.9M349 623.9V582.7H349.4V584.9M349.9 623.9V581.1H350.2V623.9M349.2 582.7V577.5H350.1V581.1M348 579.4V574.1H349.6V577.5M347.4 623.9V572.3H348.8V574.1M351.2 623.9V587.2H351.5V623.9M351.8 623.9V585.8H352.1V623.9M351.3 587.2V583.4H352V585.8M350.9 623.9V580.4H351.6V583.4M350.6 623.9V579.2H351.3V580.4M353 623.9V585H353.4V623.9M352.7 623.9V584.4H353.2V585M352.4 623.9V581.6H353V584.4M354 623.9V581.9H354.3V623.9M353.7 623.9V578.6H354.1V581.9M352.7 581.6V571.4H353.9V578.6M350.9 579.2V568.1H353.3V571.4M354.9 623.9V589.5H355.2V623.9M354.6 623.9V581.1H355.1V589.5M355.5 623.9V581.2H355.8V623.9M356.1 623.9V586.8H356.4V623.9M357.1 623.9V590.1H357.4V623.9M356.8 623.9V586.5H357.2V590.1M356.3 586.8V583.5H357V586.5M358.3 623.9V586.4H358.6V623.9M358 623.9V583.6H358.4V586.4M357.7 623.9V582.5H358.2V583.6M356.6 583.5V577.2H357.9V582.5M355.7 581.2V572.7H357.3V577.2M354.8 581.1V571H356.5V572.7M356.9 571H355.7M358.9 623.9V591.3H359.2V623.9M359.6 623.9V591.2H359.9V623.9M359.1 591.3V591H359.7V591.2M360.5 623.9V591.2H360.8V623.9M360.2 623.9V591H360.7V591.2M361.5 623.9V591.3H361.8V623.9M361.2 623.9V590.9H361.6V591.3M360.4 591V590.8H361.4V590.9M359.4 591V590.7H360.9V590.8M362.4 623.9V589.6H362.7V623.9M362.1 623.9V588H362.6V589.6M363 623.9V586.5H363.3V623.9M362.3 588V583.6H363.2V586.5M363.9 623.9V587.2H364.2V623.9M364.6 623.9V590.2H364.9V623.9M365.2 623.9V588.7H365.5V623.9M364.7 590.2V586.9H365.3V588.7M366.1 623.9V590.5H366.4V623.9M365.8 623.9V586.1H366.2V590.5M365 586.9V581.3H366V586.1M364.1 587.2V580.7H365.5V581.3M363.6 623.9V578.1H364.8V580.7M362.8 583.6V575.3H364.2V578.1M366.7 623.9V589.5H367V623.9M367.3 623.9V588.9H367.7V623.9M368.3 623.9V589.7H368.6V623.9M368 623.9V588.7H368.4V589.7M367.5 588.9V585.6H368.2V588.7M366.9 589.5V583.4H367.8V585.6M369.2 623.9V589.3H369.5V623.9M368.9 623.9V586.6H369.4V589.3M369.9 623.9V589.8H370.2V623.9M370.5 623.9V588.8H370.8V623.9M370 589.8V586.8H370.6V588.8M371.4 623.9V590.9H371.7V623.9M371.1 623.9V586.7H371.6V590.9M370.3 586.8V584.6H371.3V586.7M369.1 586.6V582.9H370.8V584.6M367.4 583.4V578.3H370V582.9M373 623.9V590.1H373.3V623.9M372.7 623.9V589.1H373.1V590.1M372.4 623.9V588.9H372.9V589.1M373.9 623.9V590.5H374.2V623.9M373.6 623.9V589.5H374V590.5M374.8 623.9V590.2H375.1V623.9M374.5 623.9V589.3H375V590.2M373.8 589.5V588.1H374.7V589.3M372.6 588.9V587.3H374.3V588.1M375.7 623.9V588.6H376V623.9M375.4 623.9V586.9H375.9V588.6M373.5 587.3V585.8H375.7V586.9M372.1 623.9V585.2H374.6V585.8M376.7 623.9V591.6H377V623.9M377.6 623.9V591.5H377.9V623.9M377.3 623.9V591.5H377.8V591.5M376.8 591.6V591.4H377.5V591.5M376.4 623.9V591.2H377.2V591.4M378.2 623.9V591.6H378.5V623.9M378.8 623.9V591.6H379.2V623.9M379.8 623.9V591.7H380.1V623.9M379.5 623.9V591.6H379.9V591.7M379 591.6V591.4H379.7V591.6M378.4 591.6V591.2H379.4V591.4M376.8 591.2V591H378.9V591.2M380.4 623.9V585H380.7V623.9M381 623.9V583.2H381.4V623.9M380.6 585V578H381.2V583.2M382.3 623.9V586.4H382.6V623.9M382 623.9V582.9H382.4V586.4M381.7 623.9V581H382.2V582.9M383.5 623.9V588.9H383.9V623.9M383.2 623.9V585.7H383.7V588.9M384.2 623.9V585.1H384.5V623.9M383.5 585.7V579.8H384.3V585.1M382.9 623.9V574.7H383.9V579.8M381.9 581V568.1H383.4V574.7M380.9 578V562.8H382.7V568.1M384.8 623.9V588.9H385.1V623.9M386 623.9V590.1H386.3V623.9M385.7 623.9V588.4H386.2V590.1M385.4 623.9V588.3H385.9V588.4M385 588.9V587.2H385.7V588.3M386.6 623.9V589.4H386.9V623.9M387.5 623.9V588.1H387.9V623.9M387.2 623.9V587H387.7V588.1M386.8 589.4V585.9H387.5V587M385.3 587.2V585.4H387.1V585.9M388.5 623.9V589.2H388.8V623.9M388.2 623.9V588H388.6V589.2M389.1 623.9V588.7H389.4V623.9M390 623.9V589.5H390.3V623.9M389.7 623.9V588.4H390.1V589.5M389.2 588.7V587.5H389.9V588.4M388.4 588V584.8H389.6V587.5M386.2 585.4V580.8H389V584.8M390.6 623.9V588.4H390.9V623.9M391.6 623.9V587.6H391.9V623.9M391.2 623.9V579.3H391.7V587.6M390.8 588.4V578H391.5V579.3M392.8 623.9V587.8H393.2V623.9M392.5 623.9V586.3H393V587.8M392.2 623.9V581.3H392.8V586.3M393.5 623.9V587.4H393.8V623.9M394.1 623.9V584.5H394.4V623.9M395.1 623.9V589.8H395.4V623.9M396 623.9V589.2H396.3V623.9M395.7 623.9V587.4H396.2V589.2M395.2 589.8V586.4H395.9V587.4M394.7 623.9V584H395.6V586.4M394.3 584.5V580.7H395.2V584M393.6 587.4V577.7H394.7V580.7M392.5 581.3V573.7H394.2V577.7M391.1 578V567.4H393.3V573.7M393.7 567.4H392.2M397 623.9V582.4H397.3V623.9M396.7 623.9V580.7H397.1V582.4M397.6 623.9V585.7H397.9V623.9M398.2 623.9V579.5H398.5V623.9M397.7 585.7V577.2H398.3V579.5M396.9 580.7V573.3H398V577.2M399.1 623.9V586.6H399.4V623.9M398.8 623.9V585H399.3V586.6M399.7 623.9V589.4H400V623.9M400.3 623.9V584.3H400.6V623.9M399.9 589.4V581H400.5V584.3M399 585V569.9H400.2V581M397.5 573.3V566.1H399.6V569.9M401.9 623.9V591.3H402.2V623.9M401.6 623.9V583.5H402V591.3M401.2 623.9V580.6H401.8V583.5M400.9 623.9V578.1H401.5V580.6M402.4 623.9V588.5H402.8V623.9M403.4 623.9V587.7H403.7V623.9M403.1 623.9V576.7H403.5V587.7M402.6 588.5V572.8H403.3V576.7M401.2 578.1V569.3H402.9V572.8M404.3 623.9V590.1H404.6V623.9M404 623.9V584.5H404.4V590.1M404.9 623.9V587.5H405.2V623.9M405.5 623.9V585.5H405.8V623.9M405 587.5V582.7H405.7V585.5M406.1 623.9V591.4H406.4V623.9M406.7 623.9V590.6H407V623.9M406.3 591.4V581.3H406.9V590.6M405.3 582.7V572.7H406.6V581.3M404.2 584.5V569H406V572.7M407.4 623.9V587.8H407.7V623.9M408.3 623.9V587.2H408.6V623.9M408 623.9V586.4H408.5V587.2M407.5 587.8V585.9H408.2V586.4M409.3 623.9V587.3H409.6V623.9M409 623.9V586.9H409.4V587.3M409.9 623.9V586.8H410.2V623.9M409.2 586.9V585.4H410.1V586.8M407.9 585.9V584.8H409.6V585.4M410.6 623.9V582.4H410.9V623.9M411.8 623.9V589.3H412.1V623.9M411.5 623.9V587.8H412V589.3M411.2 623.9V579.8H411.7V587.8M412.4 623.9V587.6H412.8V623.9M413.1 623.9V583H413.4V623.9M412.6 587.6V579.7H413.2V583M411.5 579.8V574.7H412.9V579.7M410.7 582.4V571.4H412.2V574.7M414 623.9V583.6H414.3V623.9M413.7 623.9V578.9H414.2V583.6M415 623.9V586.4H415.3V623.9M414.7 623.9V585.5H415.1V586.4M415.9 623.9V585.8H416.3V623.9M415.6 623.9V582H416.1V585.8M414.9 585.5V579.5H415.9V582M417.2 623.9V589H417.5V623.9M416.9 623.9V581.8H417.4V589M416.6 623.9V578.9H417.1V581.8M415.4 579.5V573.5H416.9V578.9M413.9 578.9V569.5H416.1V573.5M418.5 623.9V587.5H418.8V623.9M418.2 623.9V584.7H418.7V587.5M417.9 623.9V583.3H418.4V584.7M419.4 623.9V587.1H419.8V623.9M419.1 623.9V584.8H419.6V587.1M420.4 623.9V588.6H420.7V623.9M421 623.9V587.6H421.4V623.9M420.6 588.6V585.5H421.2V587.6M420.1 623.9V584H420.9V585.5M419.4 584.8V577.7H420.5V584M422 623.9V584.6H422.3V623.9M421.7 623.9V582.3H422.1V584.6M423.6 623.9V586H423.9V623.9M423.3 623.9V585H423.7V586M422.9 623.9V583.9H423.5V585M422.6 623.9V580.8H423.2V583.9M421.9 582.3V576.3H422.9V580.8M419.9 577.7V572.4H422.4V576.3M418.1 583.3V569.2H421.2V572.4M424.2 623.9V588.2H424.5V623.9M425.1 623.9V587.8H425.4V623.9M424.8 623.9V587.7H425.3V587.8M424.4 588.2V586H425.1V587.7M426.1 623.9V589H426.4V623.9M425.8 623.9V585.9H426.2V589M424.7 586V583H426V585.9M427 623.9V586.6H427.3V623.9M426.7 623.9V585.4H427.2V586.6M427.6 623.9V588.5H427.9V623.9M428.6 623.9V588.3H428.9V623.9M428.2 623.9V587.4H428.7V588.3M427.8 588.5V586.3H428.5V587.4M429.5 623.9V587.7H429.8V623.9M429.2 623.9V585.3H429.6V587.7M428.1 586.3V584.1H429.4V585.3M426.9 585.4V582.2H428.8V584.1M425.4 583V581.4H427.8V582.2M428.1 581.4H426.6M430.8 623.9V590.3H431.1V623.9M430.4 623.9V581.3H430.9V590.3M430.1 623.9V579H430.7V581.3M431.7 623.9V584.5H432V623.9M432.7 623.9V587.2H433V623.9M432.4 623.9V582.7H432.8V587.2M431.9 584.5V579.1H432.6V582.7M431.4 623.9V573.2H432.2V579.1M430.4 579V570.6H431.8V573.2M433.6 623.9V589.3H433.9V623.9M433.3 623.9V585.6H433.8V589.3M434.8 623.9V588.1H435.1V623.9M434.5 623.9V587H435V588.1M434.2 623.9V583.8H434.8V587M433.5 585.6V579.3H434.5V583.8M435.8 623.9V586.6H436.1V623.9M436.4 623.9V589.7H436.7V623.9M437.3 623.9V590.3H437.6V623.9M437 623.9V586.6H437.4V590.3M436.5 589.7V585H437.2V586.6M435.9 586.6V581.1H436.9V585M435.4 623.9V578.9H436.4V581.1M434 579.3V575.6H435.9V578.9M437.9 623.9V582.2H438.2V623.9M438.5 623.9V586.2H438.8V623.9M439.7 623.9V586.3H440.1V623.9M439.4 623.9V581H439.9V586.3M439.1 623.9V571.3H439.7V581M438.7 586.2V569.8H439.4V571.3M440.4 623.9V584.8H440.7V623.9M441.3 623.9V588.6H441.6V623.9M441.9 623.9V582.4H442.2V623.9M441.4 588.6V572.7H442V582.4M441 623.9V567.4H441.7V572.7M440.5 584.8V563.3H441.4V567.4M439 569.8V550H440.9V563.3M438.1 582.2V545H440V550M441 545H439M442.8 623.9V588.9H443.1V623.9M443.7 623.9V589.7H444V623.9M443.4 623.9V584.5H443.9V589.7M443 588.9V577.6H443.7V584.5M442.5 623.9V573H443.3V577.6M443.7 573H442.9M444.7 623.9V585.2H445V623.9M445.4 623.9V588.8H445.7V623.9M446 623.9V587.3H446.3V623.9M445.5 588.8V581.2H446.2V587.3M444.9 585.2V575.6H445.8V581.2M444.4 623.9V571.8H445.4V575.6M446.9 623.9V589.9H447.2V623.9M447.6 623.9V587.9H447.9V623.9M447.1 589.9V581.1H447.7V587.9M446.6 623.9V578.4H447.4V581.1M448.4 623.9V586.8H448.8V623.9M449.1 623.9V585.1H449.4V623.9M448.6 586.8V583.8H449.2V585.1M448.1 623.9V576.7H448.9V583.8M447 578.4V571.6H448.5V576.7M449.7 623.9V580.4H450V623.9M450.6 623.9V589.8H450.9V623.9M450.3 623.9V582.2H450.8V589.8M451.9 623.9V585H452.2V623.9M451.6 623.9V583.9H452.1V585M451.3 623.9V579H451.8V583.9M450.5 582.2V572.3H451.6V579M449.8 580.4V566.2H451.1V572.3M452.9 623.9V581.9H453.2V623.9M453.5 623.9V580.4H453.8V623.9M453 581.9V576.6H453.6V580.4M452.6 623.9V567.5H453.3V576.6M454.4 623.9V580.8H454.7V623.9M454.1 623.9V574.2H454.5V580.8M455.6 623.9V591.7H455.9V623.9M455.3 623.9V588.7H455.8V591.7M455 623.9V582.1H455.5V588.7M456.5 623.9V583.1H456.8V623.9M456.2 623.9V573H456.7V583.1M455.3 582.1V562.1H456.5V573M454.3 574.2V557.2H455.9V562.1M452.9 567.5V545H455.1V557.2M457.8 623.9V584.3H458.1V623.9M457.5 623.9V584.2H457.9V584.3M458.4 623.9V579.4H458.7V623.9M459.1 623.9V584.3H459.4V623.9M460 623.9V588.4H460.3V623.9M459.7 623.9V583.9H460.2V588.4M459.2 584.3V575H459.9V583.9M458.6 579.4V571.7H459.6V575M457.7 584.2V564.6H459.1V571.7M457.2 623.9V560.3H458.4V564.6M460.6 623.9V578.3H460.9V623.9M461.6 623.9V577.7H461.9V623.9M461.3 623.9V564.6H461.7V577.7M460.8 578.3V556.1H461.5V564.6M457.8 560.3V546H461.1V556.1M462.8 623.9V584.1H463.1V623.9M462.5 623.9V581.4H462.9V584.1M462.2 623.9V578.4H462.7V581.4M464 623.9V584H464.3V623.9M463.7 623.9V582.8H464.1V584M463.4 623.9V582.3H463.9V582.8M465.2 623.9V586.5H465.5V623.9M464.9 623.9V583.2H465.3V586.5M464.6 623.9V581.3H465.1V583.2M463.7 582.3V576H464.9V581.3M462.5 578.4V574.7H464.3V576M465.8 623.9V581.7H466.1V623.9M466.4 623.9V584.4H466.7V623.9M467.3 623.9V585.4H467.6V623.9M467.9 623.9V584.8H468.2V623.9M467.5 585.4V582.2H468.1V584.8M467 623.9V581.9H467.8V582.2M466.6 584.4V580H467.4V581.9M466 581.7V576.3H467V580M467.1 576.3H466.5M469.2 623.9V579.7H469.5V623.9M468.9 623.9V577.4H469.4V579.7M470.9 623.9V586.1H471.2V623.9M470.5 623.9V580.8H471V586.1M470.2 623.9V575.9H470.8V580.8M469.9 623.9V571.7H470.5V575.9M469.1 577.4V566.3H470.2V571.7M468.6 623.9V558.9H469.7V566.3M469.7 558.9H469.1M472.1 623.9V581.9H472.4V623.9M471.8 623.9V574.8H472.3V581.9M471.5 623.9V570.2H472V574.8M473.3 623.9V584.7H473.6V623.9M473 623.9V581H473.5V584.7M472.7 623.9V579.3H473.3V581M473.9 623.9V586.3H474.2V623.9M474.5 623.9V580.3H474.8V623.9M474.1 586.3V571.3H474.7V580.3M473 579.3V564H474.4V571.3M471.8 570.2V557.2H473.7V564M475.2 623.9V584.3H475.5V623.9M475.8 623.9V581.9H476.1V623.9M475.3 584.3V579.6H475.9V581.9M476.4 623.9V582.8H476.7V623.9M478 623.9V582.8H478.3V623.9M477.7 623.9V581.8H478.1V582.8M477.4 623.9V581.3H477.9V581.8M477 623.9V580.2H477.6V581.3M476.6 582.8V578.4H477.3V580.2M475.6 579.6V575.7H477V578.4M477 575.7H476.3M478.6 623.9V581.7H478.9V623.9M479.3 623.9V583.7H479.6V623.9M479.9 623.9V581.6H480.2V623.9M479.4 583.7V579.7H480.1V581.6M478.8 581.7V575.1H479.7V579.7M480.9 623.9V586H481.2V623.9M481.5 623.9V582.3H481.8V623.9M481 586V575.4H481.7V582.3M480.5 623.9V573.3H481.4V575.4M479.3 575.1V567H481V573.3M482.2 623.9V574H482.5V623.9M482.8 623.9V570H483.1V623.9M482.3 574V561.6H483V570M484.1 623.9V580.1H484.4V623.9M484.7 623.9V576.9H485.1V623.9M484.2 580.1V570H484.9V576.9M485.4 623.9V585.8H485.7V623.9M486 623.9V574.7H486.3V623.9M485.5 585.8V566.5H486.2V574.7M484.6 570V556.8H485.9V566.5M483.8 623.9V550H485.2V556.8M483.4 623.9V543.9H484.5V550M482.6 561.6V534H484V543.9M484.1 534H483.3M487 623.9V586.2H487.3V623.9M486.7 623.9V581H487.1V586.2M487.6 623.9V580.5H487.9V623.9M486.9 581V575.9H487.7V580.5M488.5 623.9V577.4H488.8V623.9M488.2 623.9V565.1H488.7V577.4M487.3 575.9V558H488.4V565.1M489.1 623.9V580.9H489.4V623.9M490.1 623.9V582.4H490.4V623.9M489.8 623.9V580.3H490.2V582.4M490.7 623.9V573.1H491V623.9M490 580.3V567H490.8V573.1M489.3 580.9V547.4H490.4V567M487.9 558V539.6H489.9V547.4M492.2 623.9V580.7H492.5V623.9M491.9 623.9V579.9H492.3V580.7M493.1 623.9V581.2H493.4V623.9M492.8 623.9V577.2H493.2V581.2M492.1 579.9V575.2H493V577.2M491.6 623.9V572.3H492.6V575.2M491.3 623.9V570.3H492.1V572.3M494.3 623.9V584.9H494.6V623.9M494 623.9V577.1H494.4V584.9M493.7 623.9V568.9H494.2V577.1M491.7 570.3V563.2H494V568.9M494.9 623.9V579.8H495.2V623.9M495.5 623.9V583.2H495.8V623.9M496.7 623.9V584.6H497V623.9M496.4 623.9V580.4H496.8V584.6M496.1 623.9V577.5H496.6V580.4M495.6 583.2V575.7H496.4V577.5M495.1 579.8V569.2H496V575.7M496.1 569.2H495.5M497.9 623.9V587.4H498.2V623.9M497.6 623.9V585.2H498.1V587.4M498.5 623.9V586.6H498.8V623.9M499.4 623.9V588.6H499.7V623.9M499.1 623.9V584.7H499.6V588.6M498.6 586.6V581H499.3V584.7M497.8 585.2V575.8H499V581M497.3 623.9V572.8H498.4V575.8M500 623.9V578.3H500.3V623.9M501.5 623.9V582.5H501.8V623.9M501.2 623.9V581.6H501.7V582.5M500.9 623.9V579.3H501.5V581.6M500.6 623.9V575.3H501.2V579.3M500.2 578.3V574.1H500.9V575.3M502.5 623.9V578.9H502.8V623.9M502.1 623.9V577.7H502.6V578.9M503.1 623.9V582.9H503.4V623.9M504 623.9V584.4H504.3V623.9M503.7 623.9V578.4H504.1V584.4M503.2 582.9V576.9H503.9V578.4M502.4 577.7V569.8H503.6V576.9M500.5 574.1V567.1H503V569.8M505.2 623.9V584.8H505.5V623.9M504.9 623.9V584.7H505.4V584.8M504.6 623.9V583.7H505.1V584.7M506.1 623.9V584.4H506.4V623.9M505.8 623.9V583.9H506.3V584.4M507.3 623.9V585.3H507.6V623.9M507 623.9V585H507.5V585.3M506.7 623.9V584.6H507.3V585M508.5 623.9V584.9H508.8V623.9M508.2 623.9V584.7H508.7V584.9M507.9 623.9V583.7H508.5V584.7M507 584.6V583.2H508.2V583.7M506 583.9V582.7H507.6V583.2M504.9 583.7V581.5H506.8V582.7M507.4 581.5H505.8M510.1 623.9V585.1H510.4V623.9M509.8 623.9V585H510.3V585.1M509.5 623.9V584.4H510V585M509.2 623.9V584.2H509.8V584.4M510.8 623.9V584.9H511.1V623.9M512 623.9V584.7H512.3V623.9M511.7 623.9V584.6H512.2V584.7M511.4 623.9V584.2H511.9V584.6M510.9 584.9V583.7H511.7V584.2M509.5 584.2V583.1H511.3V583.7M513.3 623.9V584.5H513.6V623.9M513 623.9V582.3H513.4V584.5M512.7 623.9V581.5H513.2V582.3M514.2 623.9V582.4H514.5V623.9M513.9 623.9V580.9H514.4V582.4M512.9 581.5V578H514.1V580.9M515.2 623.9V583H515.5V623.9M514.9 623.9V580.6H515.3V583M515.8 623.9V582.9H516.1V623.9M516.7 623.9V582.6H517V623.9M516.4 623.9V580.9H516.9V582.6M515.9 582.9V579.7H516.7V580.9M515.1 580.6V575.8H516.3V579.7M513.5 578V575.3H515.7V575.8M518 623.9V586.8H518.3V623.9M517.7 623.9V579.8H518.1V586.8M517.4 623.9V572.5H517.9V579.8M518.9 623.9V579.1H519.2V623.9M518.6 623.9V577.6H519.1V579.1M519.8 623.9V586H520.2V623.9M521.1 623.9V585.4H521.4V623.9M520.8 623.9V583.4H521.2V585.4M520.5 623.9V580.4H521V583.4M520 586V578H520.7V580.4M519.5 623.9V572.9H520.4V578M518.8 577.6V568.6H519.9V572.9M517.6 572.5V565.4H519.4V568.6M520 565.4H518.5M522.3 623.9V585.1H522.6V623.9M522 623.9V578.3H522.5V585.1M521.7 623.9V576.5H522.2V578.3M522.9 623.9V582.1H523.2V623.9M523.8 623.9V584.1H524.1V623.9M523.5 623.9V579.1H524V584.1M523.1 582.1V575.4H523.8V579.1M522 576.5V568.4H523.4V575.4M524.8 623.9V576.4H525.1V623.9M524.5 623.9V574.8H525V576.4M526.1 623.9V583.6H526.4V623.9M525.8 623.9V578.9H526.3V583.6M525.5 623.9V572.7H526V578.9M524.7 574.8V563.6H525.7V572.7M526.8 623.9V587.6H527.1V623.9M527.4 623.9V588.9H527.8V623.9M528.4 623.9V587.1H528.7V623.9M528.1 623.9V583.8H528.6V587.1M527.6 588.9V583.5H528.3V583.8M526.9 587.6V577.9H528V583.5M529.4 623.9V583.7H529.7V623.9M530.4 623.9V584.9H530.7V623.9M530 623.9V582.7H530.5V584.9M529.5 583.7V579.7H530.3V582.7M529.1 623.9V577.1H529.9V579.7M531.3 623.9V580H531.6V623.9M531 623.9V576.8H531.5V580M529.5 577.1V568.1H531.2V576.8M532.3 623.9V583.3H532.6V623.9M532.9 623.9V584.1H533.2V623.9M533.5 623.9V581.4H533.8V623.9M533.1 584.1V579H533.7V581.4M532.4 583.3V577.4H533.4V579M532 623.9V574.1H532.9V577.4M534.5 623.9V580.7H534.8V623.9M535.7 623.9V583H536V623.9M535.4 623.9V581.3H535.9V583M535.1 623.9V576.1H535.7V581.3M534.6 580.7V575.1H535.4V576.1M534.2 623.9V570.6H535V575.1M532.4 574.1V567.8H534.6V570.6M537 623.9V583.8H537.3V623.9M536.7 623.9V582.5H537.1V583.8M536.4 623.9V582.1H536.9V582.5M537.6 623.9V583.2H537.9V623.9M538.2 623.9V582.2H538.5V623.9M537.7 583.2V581.3H538.3V582.2M538.8 623.9V583.7H539.1V623.9M539.4 623.9V583.3H539.7V623.9M538.9 583.7V583H539.5V583.3M540.6 623.9V583.3H540.9V623.9M540.3 623.9V582.4H540.7V583.3M540 623.9V582H540.5V582.4M539.2 583V579.9H540.3V582M538 581.3V578.9H539.7V579.9M536.6 582.1V577.5H538.9V578.9M538.9 577.5H537.7M541.8 623.9V582.4H542.1V623.9M541.5 623.9V580.6H542V582.4M541.2 623.9V579.6H541.7V580.6M542.8 623.9V580.5H543.1V623.9M543.7 623.9V581.1H544V623.9M543.4 623.9V579.6H543.8V581.1M542.9 580.5V577.2H543.6V579.6M542.4 623.9V575.4H543.3V577.2M541.5 579.6V574.1H542.9V575.4M543.2 574.1H542.2M545.3 623.9V587.1H545.6V623.9M544.9 623.9V583.8H545.4V587.1M544.6 623.9V582.1H545.2V583.8M546.2 623.9V585.1H546.5V623.9M545.9 623.9V580.1H546.4V585.1M544.9 582.1V575.4H546.1V580.1M544.3 623.9V571.1H545.5V575.4M548.1 623.9V584.9H548.4V623.9M547.8 623.9V584H548.3V584.9M547.5 623.9V582H548V584M547.2 623.9V580.9H547.8V582M546.9 623.9V577.9H547.5V580.9M548.8 623.9V583.2H549.1V623.9M550 623.9V583.2H550.3V623.9M549.7 623.9V582.2H550.2V583.2M549.4 623.9V578.8H549.9V582.2M548.9 583.2V576.8H549.7V578.8M547.2 577.9V575.5H549.3V576.8"/><path fill="none" stroke="#bf00bf" stroke-width="2.0" stroke-linejoin="round" d="M557.7 467.6V400H576V433.3M568.2 505.6V433.3H583.9V478.1M552.9 551V467.6H561.2V528.8M557.9 538.7V528.8H563V537.6M566.4 515V505.6H569.2V512M577.5 517.8V478.1H590.6V505.6M587.9 545V505.6H595.1V522.3M592 545V522.3H599V539.1M574.7 544.6V517.8H580.7V535.1M579.6 561.2V535.1H583V566.4M556.9 555.8V538.7H559.1V560.4M562.1 563.3V537.6H565V550.7M573.1 563.4V544.6H575.2V574.9M596.7 566.5V539.1H600.4V566.1M551.1 623.9V568.4H551.5V623.9M551.9 623.9V566.6H552.3V623.9M551.3 568.4V564.4H552.1V566.6M550.7 623.9V559.6H551.7V564.4M553.1 623.9V571.4H553.5V623.9M552.7 623.9V570.1H553.3V571.4M554.3 623.9V569.9H554.7V623.9M553.9 623.9V567H554.5V569.9M553 570.1V555.1H554.2V567M551.2 559.6V551H553.6V555.1M555.1 623.9V565.6H555.5V623.9M556.6 623.9V573.4H557V623.9M556.3 623.9V570.8H556.8V573.4M557.4 623.9V567.3H557.8V623.9M556.5 570.8V565.3H557.6V567.3M555.9 623.9V562.6H557.1V565.3M555.3 565.6V555.8H556.5V562.6M556.9 555.8H555.9M558.2 623.9V569.2H558.6V623.9M558.9 623.9V568.8H559.3V623.9M558.4 569.2V565.2H559.1V568.8M560 623.9V567.9H560.4V623.9M559.7 623.9V564.1H560.2V567.9M558.7 565.2V560.4H560V564.1M561.2 623.9V568H561.5V623.9M560.8 623.9V566.4H561.3V568M561.9 623.9V570.3H562.3V623.9M563 623.9V568.9H563.4V623.9M562.6 623.9V567.8H563.2V568.9M562.1 570.3V565.2H562.9V567.8M561.1 566.4V563.3H562.5V565.2M563.7 623.9V567.1H564.1V623.9M564.4 623.9V573.1H564.8V623.9M565.2 623.9V567.1H565.5V623.9M564.6 573.1V560.5H565.3V567.1M563.9 567.1V550.7H565V560.5M565 550.7H564.4M567.2 623.9V570.3H567.6V623.9M566.8 623.9V554H567.4V570.3M566.3 623.9V530.5H567.1V554M565.9 623.9V515H566.7V530.5M569.1 623.9V569.1H569.5V623.9M568.7 623.9V555.2H569.3V569.1M568.4 623.9V551.1H569V555.2M569.8 623.9V565.3H570.2V623.9M570.6 623.9V556.4H571V623.9M570 565.3V534.5H570.8V556.4M568.7 551.1V523.9H570.4V534.5M568 623.9V512H569.5V523.9M571.7 623.9V574.1H572.1V623.9M571.3 623.9V571.8H571.9V574.1M573.6 623.9V575.3H574V623.9M573.2 623.9V572.8H573.8V575.3M572.8 623.9V571.3H573.5V572.8M572.5 623.9V565.7H573.2V571.3M571.6 571.8V563.4H572.8V565.7M573.1 563.4H572.2M575.2 623.9V575.7H575.6V623.9M574.8 623.9V575.6H575.4V575.7M576.8 623.9V575.8H577.2V623.9M576.4 623.9V575.8H577V575.8M576 623.9V575.4H576.7V575.8M575.1 575.6V575.2H576.3V575.4M574.4 623.9V574.9H575.7V575.2M577.6 623.9V574.2H578V623.9M578.8 623.9V571.4H579.2V623.9M578.4 623.9V568.9H579V571.4M579.9 623.9V574.9H580.3V623.9M579.5 623.9V573.6H580.1V574.9M580.7 623.9V572.8H581.1V623.9M579.8 573.6V567.2H580.9V572.8M578.7 568.9V561.9H580.4V567.2M577.8 574.2V561.2H579.5V561.9M579.6 561.2H578.7M581.9 623.9V573.7H582.2V623.9M581.5 623.9V572.4H582.1V573.7M583 623.9V573.8H583.4V623.9M582.6 623.9V571.6H583.2V573.8M583.8 623.9V572.4H584.1V623.9M584.9 623.9V572.5H585.3V623.9M584.5 623.9V570.6H585.1V572.5M583.9 572.4V570.5H584.8V570.6M582.9 571.6V567.7H584.4V570.5M581.8 572.4V566.4H583.6V567.7M586 623.9V568.6H586.4V623.9M585.6 623.9V562.5H586.2V568.6M587.1 623.9V563.5H587.5V623.9M586.8 623.9V560.7H587.3V563.5M588.3 623.9V567.5H588.6V623.9M587.9 623.9V565.1H588.5V567.5M589.4 623.9V564.5H589.8V623.9M589 623.9V559.4H589.6V564.5M588.2 565.1V555.9H589.3V559.4M587 560.7V550.8H588.7V555.9M585.9 562.5V545H587.9V550.8M587.9 545H586.9M590.2 623.9V568.6H590.6V623.9M591 623.9V568.5H591.4V623.9M590.4 568.6V561.3H591.2V568.5M591.8 623.9V573.9H592.2V623.9M592.6 623.9V571.6H593V623.9M592 573.9V569.8H592.8V571.6M593.8 623.9V569.7H594.1V623.9M593.4 623.9V565.7H594V569.7M592.4 569.8V553.2H593.6V565.7M590.8 561.3V545H593V553.2M594.9 623.9V569.4H595.3V623.9M594.5 623.9V569H595.1V569.4M595.7 623.9V570.9H596.1V623.9M596.5 623.9V570.3H596.8V623.9M595.9 570.9V569.8H596.6V570.3M597.2 623.9V569.9H597.6V623.9M598 623.9V569.7H598.4V623.9M597.4 569.9V568.4H598.2V569.7M596.3 569.8V567.9H597.8V568.4M594.8 569V566.5H597V567.9M599.1 623.9V567.1H599.5V623.9M598.7 623.9V566.8H599.3V567.1M600.7 623.9V567.3H601.1V623.9M600.3 623.9V567H600.9V567.3M601.5 623.9V566.8H601.9V623.9M600.6 567V566.5H601.7V566.8M599.9 623.9V566.3H601.2V566.5M599 566.8V566.1H600.5V566.3"/><path fill="none" stroke="#bfbf00" stroke-width="2.0" stroke-linejoin="round" d="M606.1 480.6V268.1H644.8V366.7M620.8 447.2V366.7H668.8V402.4M658.9 463.3V402.4H677.8V437M676.9 531.8V437H680.3V536.9M610.4 527V447.2H630.8V464M619.5 482.9V464H643.7V471.2M640.5 516V471.2H646V491.6M644 518V491.6H648.4V503M647 557.5V503H650.2V519.9M615 500.9V482.9H623.9V494.1M619.8 539.7V494.1H629V516.9M624.2 553.8V516.9H632.2V529.4M654 526.7V463.3H661.9V488.2M658.7 557.2V488.2H666.5V522.7M663 546.2V522.7H670V536.5M604.6 527V480.6H607.4V527M613.9 558.8V500.9H617.1V544M628.9 546.1V529.4H635.9V567.2M627.8 572.8V546.1H630.5V551.4M648.9 554.3V519.9H651.3V553.4M668 560V536.5H671.6V561.5M652.5 559.5V526.7H655.5V563M602.3 623.9V560.1H602.7V623.9M603.1 623.9V554.7H603.5V623.9M602.5 560.1V542.8H603.3V554.7M603.9 623.9V558.2H604.2V623.9M605.4 623.9V565.8H605.8V623.9M605 623.9V561.5H605.6V565.8M604.6 623.9V557.6H605.3V561.5M604 558.2V534.2H605V557.6M602.9 542.8V527H604.5V534.2M604.6 527H603.7M606.5 623.9V563.6H606.9V623.9M606.2 623.9V552.9H606.7V563.6M608.4 623.9V566.5H608.7V623.9M608 623.9V561.5H608.5V566.5M607.6 623.9V549.7H608.3V561.5M607.3 623.9V544.4H607.9V549.7M606.5 552.9V527H607.6V544.4M609.9 623.9V568.9H610.3V623.9M609.5 623.9V559.6H610.1V568.9M611.5 623.9V567.8H611.9V623.9M611.1 623.9V554.3H611.7V567.8M610.7 623.9V548.2H611.4V554.3M609.8 559.6V541.7H611.1V548.2M609.1 623.9V527H610.4V541.7M612.7 623.9V568.7H613.1V623.9M612.3 623.9V563.9H612.9V568.7M613.5 623.9V568H613.8V623.9M614.2 623.9V568.7H614.6V623.9M614.9 623.9V567.5H615.3V623.9M614.4 568.7V566.5H615.1V567.5M613.6 568V561.3H614.8V566.5M612.6 563.9V558.8H614.2V561.3M616.4 623.9V566.5H616.8V623.9M616.1 623.9V565.3H616.6V566.5M617.9 623.9V566.9H618.3V623.9M617.5 623.9V561.8H618.1V566.9M617.2 623.9V555.8H617.8V561.8M616.3 565.3V551.4H617.5V555.8M615.7 623.9V544H616.9V551.4M617.1 544H616.3M619 623.9V566.9H619.4V623.9M618.6 623.9V564.1H619.2V566.9M619.8 623.9V561.6H620.2V623.9M618.9 564.1V558.7H620V561.6M621.4 623.9V563.6H621.8V623.9M621 623.9V561.5H621.6V563.6M620.6 623.9V558.2H621.3V561.5M619.5 558.7V539.7H621V558.2M622.6 623.9V564.5H623V623.9M622.2 623.9V562.6H622.8V564.5M623.8 623.9V566.6H624.2V623.9M623.4 623.9V562.9H624V566.6M625.4 623.9V564.3H625.8V623.9M625 623.9V562.1H625.6V564.3M624.6 623.9V561.8H625.3V562.1M623.7 562.9V558.1H625V561.8M622.5 562.6V553.8H624.3V558.1M627 623.9V573.7H627.4V623.9M626.6 623.9V573.7H627.2V573.7M628.6 623.9V573.8H629V623.9M628.2 623.9V573.6H628.8V573.8M627.8 623.9V573.5H628.5V573.6M626.9 573.7V573.3H628.1V573.5M626.2 623.9V572.8H627.5V573.3M627.8 572.8H626.8M629.7 623.9V568.4H630.1V623.9M630.4 623.9V568.2H630.8V623.9M629.9 568.4V564.8H630.6V568.2M629.3 623.9V563H630.3V564.8M631.2 623.9V566.2H631.5V623.9M632.6 623.9V566.6H633V623.9M632.3 623.9V564.7H632.8V566.6M631.9 623.9V561.9H632.6V564.7M631.4 566.2V559H632.2V561.9M629.8 563V551.4H631.8V559M633.4 623.9V571.8H633.8V623.9M634.5 623.9V572.2H634.9V623.9M634.2 623.9V571.9H634.7V572.2M636.1 623.9V573H636.5V623.9M635.7 623.9V572.2H636.3V573M636.9 623.9V573.3H637.2V623.9M637.6 623.9V573.1H638V623.9M637 573.3V571.4H637.8V573.1M636 572.2V570.7H637.4V571.4M635.3 623.9V569.6H636.7V570.7M634.5 571.9V567.8H636V569.6M633.6 571.8V567.2H635.2V567.8M635.9 567.2H634.4M638.8 623.9V573.6H639.1V623.9M638.4 623.9V568.7H638.9V573.6M639.5 623.9V571.9H639.9V623.9M640.2 623.9V567.1H640.6V623.9M639.7 571.9V557.2H640.4V567.1M638.7 568.7V550.5H640V557.2M641.7 623.9V557.4H642.1V623.9M641.3 623.9V548.8H641.9V557.4M641 623.9V533.7H641.6V548.8M639.4 550.5V516H641.3V533.7M642.9 623.9V570.4H643.3V623.9M642.5 623.9V552.5H643.1V570.4M644.1 623.9V573.1H644.5V623.9M644.9 623.9V567.6H645.3V623.9M644.3 573.1V548.8H645.1V567.6M643.7 623.9V540.8H644.7V548.8M642.8 552.5V518H644.2V540.8M646.1 623.9V571.2H646.5V623.9M645.7 623.9V568.1H646.3V571.2M647.3 623.9V568.6H647.7V623.9M646.9 623.9V567.5H647.5V568.6M646 568.1V557.5H647.2V567.5M649.6 623.9V566.2H649.9V623.9M649.2 623.9V562.5H649.7V566.2M648.8 623.9V561.9H649.5V562.5M648.5 623.9V560.5H649.2V561.9M648.1 623.9V554.3H648.8V560.5M648.9 554.3H648.5M650.3 623.9V562.6H650.6V623.9M651.4 623.9V565H651.7V623.9M651 623.9V561.3H651.5V565M650.5 562.6V553.4H651.3V561.3M651.3 553.4H650.9M652.1 623.9V568.4H652.5V623.9M653.4 623.9V572.1H653.8V623.9M653 623.9V566.4H653.6V572.1M652.3 568.4V559.5H653.3V566.4M654.2 623.9V569.5H654.6V623.9M655.4 623.9V568.2H655.7V623.9M655 623.9V567.3H655.5V568.2M654.4 569.5V566.4H655.3V567.3M656.5 623.9V566.9H656.9V623.9M656.1 623.9V564.9H656.7V566.9M654.8 566.4V563H656.4V564.9M657.3 623.9V567.2H657.7V623.9M658.4 623.9V570.3H658.8V623.9M658 623.9V564.4H658.6V570.3M657.5 567.2V561.9H658.3V564.4M659.2 623.9V567.9H659.5V623.9M660.3 623.9V569.1H660.7V623.9M659.9 623.9V566.1H660.5V569.1M659.4 567.9V559.6H660.2V566.1M657.9 561.9V557.2H659.8V559.6M661 623.9V564.5H661.4V623.9M662.2 623.9V566.7H662.6V623.9M661.8 623.9V558.9H662.4V566.7M663.4 623.9V565.3H663.8V623.9M663 623.9V564.7H663.6V565.3M664.1 623.9V567.7H664.5V623.9M664.9 623.9V565.2H665.3V623.9M664.3 567.7V561.2H665.1V565.2M663.3 564.7V557.2H664.7V561.2M662.1 558.9V551H664V557.2M661.2 564.5V546.2H663.1V551M666.9 623.9V569.6H667.3V623.9M666.5 623.9V568.1H667.1V569.6M666.1 623.9V566.2H666.8V568.1M667.6 623.9V569.7H668V623.9M669.2 623.9V569.8H669.6V623.9M668.8 623.9V568.6H669.4V569.8M668.4 623.9V567.2H669.1V568.6M667.8 569.7V563.5H668.8V567.2M666.4 566.2V562.3H668.3V563.5M665.7 623.9V560H667.4V562.3M668 560H666.5M670.7 623.9V570H671.1V623.9M670.4 623.9V568.3H670.9V570M670 623.9V566.3H670.6V568.3M671.8 623.9V570.8H672.2V623.9M671.5 623.9V569.2H672V570.8M672.6 623.9V568.9H673V623.9M671.7 569.2V567.8H672.8V568.9M673.7 623.9V569.3H674.1V623.9M673.3 623.9V566.8H673.9V569.3M672.3 567.8V563.3H673.6V566.8M670.3 566.3V561.5H672.9V563.3M674.8 623.9V571.4H675.2V623.9M674.4 623.9V568.1H675V571.4M676 623.9V566.8H676.4V623.9M675.6 623.9V551.5H676.2V566.8M674.7 568.1V547.6H675.9V551.5M677.2 623.9V570.4H677.6V623.9M676.8 623.9V562.4H677.4V570.4M678 623.9V555.3H678.4V623.9M677.1 562.4V543.8H678.2V555.3M675.3 547.6V531.8H677.7V543.8M678.8 623.9V563H679.2V623.9M680.3 623.9V572.6H680.7V623.9M679.9 623.9V569.9H680.5V572.6M681.4 623.9V572.2H681.8V623.9M681.1 623.9V567.5H681.6V572.2M680.2 569.9V563.4H681.4V567.5M679.5 623.9V559.5H680.8V563.4M682.2 623.9V572H682.6V623.9M683.7 623.9V574.1H684.1V623.9M683.3 623.9V568.1H683.9V574.1M683 623.9V565.1H683.6V568.1M682.4 572V554H683.3V565.1M680.2 559.5V548.1H682.9V554M679 563V536.9H681.5V548.1"/><path fill="none" stroke="#0000ff" stroke-width="2.0" stroke-linejoin="round" d="M203.1 160.4V29.9H595.3V77.8M113.7 251.9V160.4H292.4V203.3M231.7 411.7V203.3H352V310.6M566.9 400V77.8H625.2V268.1"/><g stroke="#000" stroke-width="1.3" fill="none"><path d="M44.1 0V623.9M43.5 623.9H685M44.1 0.25H685M684.6 0V624"/></g><path stroke="#000" stroke-width="1.4" d="M40.2 623.9H44.1M40.2 507.5H44.1M40.2 391H44.1M40.2 274.6H44.1M40.2 158.1H44.1M40.2 41.7H44.1"/><g class="t" font-size="11" text-anchor="end" fill="#000" stroke="#000" stroke-width="0.3"><text transform="translate(35.7 628.1) scale(1 1.15)">0</text><text transform="translate(35.1 511) scale(1 1.15)">5000</text><text transform="translate(35.1 394.6) scale(1 1.15)">10000</text><text transform="translate(35.1 278.1) scale(1 1.15)">15000</text><text transform="translate(35.1 161.7) scale(1 1.15)">20000</text><text transform="translate(35.1 45.2) scale(1 1.15)">25000</text></g><g class="t" transform="rotate(-90)" font-size="7.9" font-weight="bold" letter-spacing="-0.9" text-anchor="end" fill="#000"><text x="-633.5" y="45.9">1558</text><text x="-633.3" y="46.2">6538</text><text x="-633.2" y="46.5">7890</text><text x="-633.7" y="46.8">6936</text><text x="-633.3" y="47.1">7493</text><text x="-633.1" y="47.4">4245</text><text x="-633.5" y="47.7">1110</text><text x="-633.6" y="48">5785</text><text x="-633.3" y="48.3">9271</text><text x="-633.1" y="48.6">2104</text><text x="-633.2" y="48.9">4362</text><text x="-633.2" y="49.3">9121</text><text x="-633.4" y="49.6">4283</text><text x="-633" y="49.9">6107</text><text x="-633.1" y="50.2">4177</text><text x="-633.3" y="50.5">4781</text><text x="-633.1" y="50.8">8620</text><text x="-633" y="51.1">4628</text><text x="-633.5" y="51.4">5342</text><text x="-633.5" y="51.7">5832</text><text x="-633.2" y="52">2785</text><text x="-633.1" y="52.3">9122</text><text x="-632.9" y="52.6">4068</text><text x="-633" y="52.9">4658</text><text x="-632.8" y="53.3">8947</text><text x="-633.3" y="53.6">7832</text><text x="-633.3" y="53.9">1924</text><text x="-632.8" y="54.2">3398</text><text x="-633.6" y="54.5">7446</text><text x="-633" y="54.8">1890</text><text x="-633.5" y="55.1">4488</text><text x="-633.5" y="55.4">1387</text><text x="-633.7" y="55.7">3325</text><text x="-632.9" y="56">7805</text><text x="-633.1" y="56.3">1849</text><text x="-633.6" y="56.6">1985</text><text x="-632.7" y="56.9">4016</text><text x="-632.7" y="57.2">7444</text><text x="-633.3" y="57.6">8366</text><text x="-633.2" y="57.9">6147</text><text x="-633.6" y="58.2">2854</text><text x="-633.5" y="58.5">2300</text><text x="-633.2" y="58.8">3713</text><text x="-633.7" y="59.1">6394</text><text x="-633.2" y="59.4">4124</text><text x="-633.2" y="59.7">4039</text><text x="-633.4" y="60">9598</text><text x="-633.1" y="60.3">8661</text><text x="-633.1" y="60.7">1522</text><text x="-633.3" y="61">6108</text><text x="-633.1" y="61.3">7203</text><text x="-633.6" y="61.6">7125</text><text x="-633.4" y="62">6434</text><text x="-633.2" y="62.3">8248</text><text x="-632.8" y="62.6">3773</text><text x="-633.1" y="62.9">9979</text><text x="-633.1" y="63.3">1047</text><text x="-633.3" y="63.6">2281</text><text x="-633.3" y="63.9">5584</text><text x="-633.6" y="64.2">2323</text><text x="-633.7" y="64.5">6758</text><text x="-633.2" y="64.8">7884</text><text x="-633.1" y="65.1">3026</text><text x="-633.3" y="65.4">4398</text><text x="-633.7" y="65.7">7228</text><text x="-633" y="66">6843</text><text x="-633.2" y="66.3">6057</text><text x="-633.5" y="66.6">8085</text><text x="-632.9" y="66.9">2437</text><text x="-633" y="67.3">1807</text><text x="-633.7" y="67.6">8757</text><text x="-633.5" y="67.9">4206</text><text x="-633.2" y="68.2">7106</text><text x="-632.8" y="68.5">9872</text><text x="-633.6" y="68.8">8312</text><text x="-633.4" y="69.1">4162</text><text x="-633.5" y="69.5">6297</text><text x="-633.7" y="69.8">6967</text><text x="-633.6" y="70.1">8774</text><text x="-633.1" y="70.4">1496</text><text x="-632.9" y="70.7">7730</text><text x="-633" y="71">5063</text><text x="-633.2" y="71.3">7631</text><text x="-633.2" y="71.7">1666</text><text x="-632.9" y="72">7153</text><text x="-632.9" y="72.3">1571</text><text x="-633.3" y="72.6">8603</text><text x="-633.3" y="72.9">2025</text><text x="-633.1" y="73.2">2015</text><text x="-633.7" y="73.5">5210</text><text x="-633.3" y="73.8">4193</text><text x="-632.7" y="74.1">2029</text><text x="-633.1" y="74.4">6555</text><text x="-633.5" y="74.7">6946</text><text x="-633" y="75">5461</text><text x="-633.4" y="75.3">6488</text><text x="-632.7" y="75.6">1714</text><text x="-633" y="75.9">5295</text><text x="-633.5" y="76.2">6185</text><text x="-633.3" y="76.5">5515</text><text x="-633.4" y="76.8">5872</text><text x="-632.9" y="77.1">1061</text><text x="-633.2" y="77.5">2070</text><text x="-633.3" y="77.8">1397</text><text x="-633" y="78.1">4831</text><text x="-633.3" y="78.4">2757</text><text x="-633.2" y="78.7">8785</text><text x="-633.7" y="79">8630</text><text x="-633.3" y="79.3">7332</text><text x="-633.1" y="79.7">5113</text><text x="-632.8" y="80">8044</text><text x="-632.9" y="80.3">9085</text><text x="-633.5" y="80.6">3174</text><text x="-632.8" y="80.9">9135</text><text x="-632.8" y="81.2">3997</text><text x="-632.9" y="81.6">1142</text><text x="-633.2" y="81.9">5969</text><text x="-633.5" y="82.2">3479</text><text x="-633.3" y="82.5">4868</text><text x="-633.5" y="82.8">6370</text><text x="-632.8" y="83.2">6235</text><text x="-632.7" y="83.5">8549</text><text x="-633.5" y="83.8">6928</text><text x="-633" y="84.1">2294</text><text x="-633.4" y="84.4">9386</text><text x="-633.1" y="84.7">4232</text><text x="-632.9" y="85.1">7417</text><text x="-633" y="85.4">3620</text><text x="-632.8" y="85.7">5051</text><text x="-633.6" y="86">7680</text><text x="-633.3" y="86.3">2060</text><text x="-633" y="86.6">1554</text><text x="-633.1" y="86.9">8892</text><text x="-633.1" y="87.2">6337</text><text x="-632.8" y="87.5">3632</text><text x="-633.6" y="87.8">7988</text><text x="-633.3" y="88.1">2723</text><text x="-633.7" y="88.5">2182</text><text x="-633.1" y="88.8">5339</text><text x="-633.3" y="89.1">2377</text><text x="-632.9" y="89.4">4413</text><text x="-632.7" y="89.7">2579</text><text x="-633.6" y="90">7898</text><text x="-633.6" y="90.3">9167</text><text x="-633" y="90.6">8323</text><text x="-633.6" y="90.9">3837</text><text x="-633.5" y="91.2">4837</text><text x="-633" y="91.5">3177</text><text x="-633.3" y="91.8">7829</text><text x="-633.7" y="92.1">8551</text><text x="-633.2" y="92.4">4849</text><text x="-633.6" y="92.7">9823</text><text x="-632.9" y="93">2985</text><text x="-633.1" y="93.4">5815</text><text x="-633.4" y="93.7">5813</text><text x="-632.9" y="94">5577</text><text x="-633" y="94.3">5385</text><text x="-633.6" y="94.6">7110</text><text x="-633.2" y="95">5162</text><text x="-633.5" y="95.3">5265</text><text x="-632.9" y="95.6">4263</text><text x="-632.9" y="95.9">8199</text><text x="-633.1" y="96.2">5053</text><text x="-632.9" y="96.5">4043</text><text x="-633.7" y="96.9">5019</text><text x="-633" y="97.2">4858</text><text x="-633.3" y="97.5">3512</text><text x="-632.8" y="97.8">5609</text><text x="-633.2" y="98.1">4084</text><text x="-633.1" y="98.5">6346</text><text x="-633.1" y="98.8">2061</text><text x="-632.8" y="99.1">7489</text><text x="-632.8" y="99.4">5123</text><text x="-633.5" y="99.7">5029</text><text x="-633.1" y="100">9312</text><text x="-632.9" y="100.4">9623</text><text x="-632.9" y="100.7">4790</text><text x="-633" y="101">2647</text><text x="-632.9" y="101.3">8600</text><text x="-632.7" y="101.6">1606</text><text x="-633.4" y="102">2676</text><text x="-633" y="102.3">1073</text><text x="-632.9" y="102.6">8778</text><text x="-633.4" y="102.9">4786</text><text x="-632.8" y="103.2">8344</text><text x="-633" y="103.5">9948</text><text x="-633.5" y="103.8">1661</text><text x="-632.8" y="104.1">5811</text><text x="-633.1" y="104.4">4815</text><text x="-633.5" y="104.7">2953</text><text x="-633.5" y="105">1825</text><text x="-632.9" y="105.3">4105</text><text x="-633.1" y="105.6">4181</text><text x="-633.4" y="105.9">2230</text><text x="-633.1" y="106.2">7098</text><text x="-633.7" y="106.5">9399</text><text x="-632.9" y="106.8">3912</text><text x="-633.7" y="107.1">8358</text><text x="-633.2" y="107.4">5258</text><text x="-632.9" y="107.7">1103</text><text x="-633.2" y="108">2733</text><text x="-632.8" y="108.3">6729</text><text x="-633.4" y="108.7">4565</text><text x="-633" y="109">1613</text><text x="-633.6" y="109.2">7040</text><text x="-633.3" y="109.5">6570</text><text x="-633.1" y="109.8">3316</text><text x="-632.9" y="110.1">1723</text><text x="-633.3" y="110.5">4341</text><text x="-632.9" y="110.8">5176</text><text x="-633.6" y="111">1626</text><text x="-632.8" y="111.3">4333</text><text x="-633.2" y="111.6">1186</text><text x="-633.2" y="111.9">6361</text><text x="-633" y="112.3">7700</text><text x="-633.5" y="112.6">7091</text><text x="-633.1" y="112.9">4033</text><text x="-633.4" y="113.2">6115</text><text x="-633.3" y="113.5">2276</text><text x="-633" y="113.8">4332</text><text x="-633.1" y="114.1">1515</text><text x="-632.8" y="114.4">9120</text><text x="-632.9" y="114.8">8921</text><text x="-633.6" y="115.1">2036</text><text x="-633" y="115.4">7687</text><text x="-633.4" y="115.7">2661</text><text x="-632.8" y="116">7476</text><text x="-633.3" y="116.4">3532</text><text x="-633.1" y="116.7">9749</text><text x="-633.2" y="117">2493</text><text x="-633" y="117.3">3681</text><text x="-632.8" y="117.6">7517</text><text x="-633" y="117.9">5442</text><text x="-632.9" y="118.2">7713</text><text x="-632.8" y="118.6">5641</text><text x="-633.4" y="118.9">6039</text><text x="-633" y="119.2">7845</text><text x="-633.1" y="119.5">1841</text><text x="-633.6" y="119.8">6117</text><text x="-633.5" y="120.1">6852</text><text x="-633.6" y="120.4">7784</text><text x="-633.6" y="120.7">7823</text><text x="-632.8" y="121">1298</text><text x="-633" y="121.3">6960</text><text x="-632.7" y="121.6">4230</text><text x="-633.4" y="121.9">7401</text><text x="-633.4" y="122.2">7635</text><text x="-633.1" y="122.5">4336</text><text x="-633.1" y="122.9">1096</text><text x="-633.4" y="123.2">8113</text><text x="-633.4" y="123.5">3565</text><text x="-632.9" y="123.8">7942</text><text x="-633.5" y="124.2">2860</text><text x="-633.1" y="124.5">2482</text><text x="-633.3" y="124.8">7655</text><text x="-632.9" y="125.1">6975</text><text x="-632.8" y="125.5">9850</text><text x="-633.6" y="125.8">3663</text><text x="-633.4" y="126.1">3129</text><text x="-633.4" y="126.4">1243</text><text x="-632.7" y="126.7">1846</text><text x="-632.7" y="127.1">3334</text><text x="-632.9" y="127.4">7499</text><text x="-632.9" y="127.7">2458</text><text x="-633" y="128">7075</text><text x="-633.1" y="128.3">9265</text><text x="-632.7" y="128.7">3812</text><text x="-633" y="129">3390</text><text x="-633.3" y="129.3">6700</text><text x="-632.9" y="129.6">9765</text><text x="-633.5" y="129.9">3651</text><text x="-633.3" y="130.2">9538</text><text x="-633.4" y="130.5">3814</text><text x="-633" y="130.8">2099</text><text x="-633.1" y="131.2">2782</text><text x="-633.4" y="131.5">7287</text><text x="-633" y="131.8">9036</text><text x="-632.7" y="132.1">4233</text><text x="-633.5" y="132.4">5941</text><text x="-633.5" y="132.7">3075</text><text x="-633" y="133">1712</text><text x="-632.7" y="133.3">8909</text><text x="-633.6" y="133.7">6153</text><text x="-633.3" y="134">1874</text><text x="-632.7" y="134.3">7355</text><text x="-632.9" y="134.6">2413</text><text x="-632.8" y="134.9">3625</text><text x="-633.5" y="135.2">4638</text><text x="-632.9" y="135.6">7627</text><text x="-633.6" y="135.9">4213</text><text x="-633.4" y="136.2">8748</text><text x="-632.8" y="136.5">9885</text><text x="-633.4" y="136.8">4573</text><text x="-633.1" y="137.1">1683</text><text x="-633.4" y="137.4">7549</text><text x="-633.5" y="137.7">9485</text><text x="-633" y="138">3563</text><text x="-632.8" y="138.3">7284</text><text x="-633.6" y="138.7">6885</text><text x="-633.1" y="139">3016</text><text x="-633.6" y="139.3">3448</text><text x="-633.4" y="139.6">5047</text><text x="-633.4" y="139.9">4155</text><text x="-633.5" y="140.2">1673</text><text x="-633.3" y="140.5">1624</text><text x="-633.2" y="140.8">6311</text><text x="-632.8" y="141.1">2928</text><text x="-633.4" y="141.4">7387</text><text x="-633.1" y="141.7">8466</text><text x="-633.2" y="142">6017</text><text x="-633.6" y="142.3">7882</text><text x="-632.8" y="142.6">6049</text><text x="-633.5" y="142.9">5083</text><text x="-632.7" y="143.2">7975</text><text x="-633.4" y="143.5">7376</text><text x="-633.5" y="143.9">7020</text><text x="-633" y="144.2">8320</text><text x="-633.2" y="144.5">9250</text><text x="-633.7" y="144.8">8181</text><text x="-633.3" y="145.1">3928</text><text x="-633.2" y="145.4">1382</text><text x="-632.9" y="145.7">1057</text><text x="-632.8" y="146">9019</text><text x="-633.1" y="146.3">8623</text><text x="-633.1" y="146.6">4854</text><text x="-632.9" y="146.9">9683</text><text x="-633" y="147.3">8508</text><text x="-632.8" y="147.6">3942</text><text x="-633.4" y="147.9">8753</text><text x="-633.4" y="148.2">7559</text><text x="-632.9" y="148.5">2754</text><text x="-632.9" y="148.8">9726</text><text x="-633.2" y="149.2">3104</text><text x="-633.1" y="149.5">6874</text><text x="-633.6" y="149.8">8054</text><text x="-633.1" y="150.1">6985</text><text x="-633" y="150.4">2502</text><text x="-633.6" y="150.7">8241</text><text x="-632.8" y="151.1">9263</text><text x="-633.3" y="151.4">9358</text><text x="-633" y="151.7">1667</text><text x="-633.5" y="152">9916</text><text x="-633.2" y="152.3">3134</text><text x="-633.5" y="152.6">2347</text><text x="-632.9" y="152.9">6140</text><text x="-633.4" y="153.2">9380</text><text x="-633.3" y="153.5">2310</text><text x="-633.2" y="153.8">1889</text><text x="-633.5" y="154.1">9256</text><text x="-633.5" y="154.4">7190</text><text x="-632.8" y="154.7">3231</text><text x="-633" y="155">1423</text><text x="-633.1" y="155.3">2087</text><text x="-632.9" y="155.6">2795</text><text x="-632.8" y="155.9">4173</text><text x="-633" y="156.2">3156</text><text x="-632.9" y="156.5">9058</text><text x="-633.4" y="156.9">5716</text><text x="-633.1" y="157.2">3705</text><text x="-632.8" y="157.5">4622</text><text x="-633" y="157.8">2073</text><text x="-633.2" y="158.1">6749</text><text x="-633.1" y="158.4">5132</text><text x="-632.9" y="158.7">3601</text><text x="-632.8" y="159">6305</text><text x="-632.7" y="159.3">5505</text><text x="-633.7" y="159.6">8477</text><text x="-633.5" y="159.9">3352</text><text x="-632.8" y="160.2">5164</text><text x="-633.4" y="160.6">9228</text><text x="-633.7" y="160.9">8866</text><text x="-633.3" y="161.2">9859</text><text x="-632.8" y="161.5">5306</text><text x="-633.2" y="161.8">9290</text><text x="-633.1" y="162.1">4889</text><text x="-632.9" y="162.4">6227</text><text x="-633.2" y="162.7">7099</text><text x="-632.7" y="163">1603</text><text x="-633.6" y="163.3">4259</text><text x="-633.3" y="163.6">3983</text><text x="-633.3" y="163.9">7610</text><text x="-633.6" y="164.2">3641</text><text x="-633.4" y="164.5">5557</text><text x="-633" y="164.8">6371</text><text x="-632.9" y="165.1">7174</text><text x="-632.8" y="165.4">3764</text><text x="-632.7" y="165.7">5330</text><text x="-633.5" y="166">2885</text><text x="-633.5" y="166.3">1795</text><text x="-633" y="166.7">6894</text><text x="-632.9" y="167">8422</text><text x="-633.3" y="167.3">9543</text><text x="-633.5" y="167.7">2713</text><text x="-633.6" y="168">5129</text><text x="-632.9" y="168.3">7459</text><text x="-633.5" y="168.6">7086</text><text x="-633.5" y="169">5337</text><text x="-633.4" y="169.3">7156</text><text x="-633" y="169.6">7044</text><text x="-632.9" y="169.9">3395</text><text x="-633.5" y="170.2">6902</text><text x="-633" y="170.5">6420</text><text x="-633.1" y="170.8">2333</text><text x="-633.3" y="171.1">8246</text><text x="-633.1" y="171.4">4769</text><text x="-633.5" y="171.7">3895</text><text x="-632.9" y="172">1791</text><text x="-632.7" y="172.3">5855</text><text x="-633.3" y="172.6">9455</text><text x="-633.3" y="173">5155</text><text x="-633.5" y="173.3">6080</text><text x="-633.4" y="173.6">6122</text><text x="-633.6" y="173.9">1029</text><text x="-633.6" y="174.2">1553</text><text x="-633.2" y="174.5">4631</text><text x="-633.2" y="174.9">3447</text><text x="-632.9" y="175.2">5767</text><text x="-633" y="175.5">8081</text><text x="-633.3" y="175.8">7843</text><text x="-632.8" y="176.1">9804</text><text x="-633.4" y="176.5">6965</text><text x="-632.9" y="176.8">1782</text><text x="-633.1" y="177.1">3163</text><text x="-633.7" y="177.4">9001</text><text x="-632.8" y="177.7">4723</text><text x="-632.7" y="178.1">1746</text><text x="-633.1" y="178.4">1365</text><text x="-632.9" y="178.7">1891</text><text x="-633.4" y="179">1042</text><text x="-632.7" y="179.3">6815</text><text x="-633.5" y="179.6">5976</text><text x="-633.6" y="179.9">2742</text><text x="-633.5" y="180.2">6851</text><text x="-633.1" y="180.5">4674</text><text x="-633" y="180.8">7770</text><text x="-633.4" y="181.1">5934</text><text x="-633.2" y="181.4">3190</text><text x="-633.1" y="181.7">4345</text><text x="-633" y="182.1">7000</text><text x="-633.1" y="182.4">8780</text><text x="-633.4" y="182.7">3598</text><text x="-633.5" y="183.1">3207</text><text x="-633.6" y="183.4">1231</text><text x="-632.9" y="183.7">4990</text><text x="-633" y="184.1">3446</text><text x="-633.1" y="184.4">8386</text><text x="-633.3" y="184.7">2569</text><text x="-633" y="185">2043</text><text x="-632.9" y="185.3">3370</text><text x="-632.8" y="185.6">5419</text><text x="-633" y="185.9">7585</text><text x="-633.2" y="186.2">5329</text><text x="-633.7" y="186.5">1188</text><text x="-633.6" y="186.8">1919</text><text x="-633.6" y="187.1">6739</text><text x="-633.7" y="187.4">8270</text><text x="-633.7" y="187.7">9480</text><text x="-633.3" y="188.1">9074</text><text x="-633.5" y="188.4">5071</text><text x="-632.8" y="188.7">3704</text><text x="-633.4" y="189">1006</text><text x="-633.3" y="189.3">1720</text><text x="-633" y="189.6">2008</text><text x="-633.3" y="189.9">1413</text><text x="-633.7" y="190.2">7651</text><text x="-633.2" y="190.5">4041</text><text x="-633.3" y="190.8">4893</text><text x="-633" y="191.1">3608</text><text x="-633" y="191.4">1956</text><text x="-633.6" y="191.8">2718</text><text x="-632.7" y="192.1">1202</text><text x="-632.9" y="192.4">4231</text><text x="-633.4" y="192.7">3330</text><text x="-633.1" y="193">7769</text><text x="-632.8" y="193.3">4268</text><text x="-633.4" y="193.6">9491</text><text x="-633.1" y="194">9305</text><text x="-633.3" y="194.3">7803</text><text x="-633.1" y="194.6">3861</text><text x="-633.2" y="194.9">9332</text><text x="-633.3" y="195.2">6068</text><text x="-633.1" y="195.5">2044</text><text x="-632.8" y="195.8">5919</text><text x="-632.9" y="196.2">1794</text><text x="-633.6" y="196.5">8830</text><text x="-633.2" y="196.8">1104</text><text x="-632.8" y="197.1">7146</text><text x="-633.6" y="197.4">8154</text><text x="-633" y="197.7">8622</text><text x="-632.8" y="198.1">2318</text><text x="-633.2" y="198.4">8413</text><text x="-633" y="198.7">3873</text><text x="-633.2" y="199">4701</text><text x="-633.3" y="199.3">2724</text><text x="-632.9" y="199.6">5283</text><text x="-633.3" y="199.9">4805</text><text x="-632.8" y="200.2">1635</text><text x="-633.2" y="200.5">3019</text><text x="-633.3" y="200.8">6497</text><text x="-632.8" y="201.1">5313</text><text x="-633.1" y="201.4">1860</text><text x="-632.8" y="201.7">5357</text><text x="-633.1" y="202">8144</text><text x="-633.6" y="202.3">5346</text><text x="-633.3" y="202.6">5843</text><text x="-633.4" y="202.9">4555</text><text x="-633.5" y="203.2">2399</text><text x="-632.8" y="203.5">9313</text><text x="-633.7" y="203.8">1249</text><text x="-633.4" y="204.1">3781</text><text x="-632.8" y="204.5">9840</text><text x="-633.5" y="204.8">9881</text><text x="-633.1" y="205.1">4322</text><text x="-632.9" y="205.4">9532</text><text x="-633.7" y="205.7">6355</text><text x="-633.3" y="206">4144</text><text x="-633.5" y="206.3">7368</text><text x="-632.8" y="206.6">6383</text><text x="-633.5" y="206.9">4918</text><text x="-632.8" y="207.2">7216</text><text x="-632.9" y="207.5">8692</text><text x="-633.1" y="207.8">8735</text><text x="-632.7" y="208.1">9514</text><text x="-633.3" y="208.4">1434</text><text x="-632.9" y="208.7">8163</text><text x="-633" y="209">9895</text><text x="-633.4" y="209.3">6042</text><text x="-633.1" y="209.6">4472</text><text x="-633.6" y="209.9">7415</text><text x="-633.3" y="210.2">2274</text><text x="-633.6" y="210.5">3810</text><text x="-633.3" y="210.8">3369</text><text x="-633.6" y="211.2">1539</text><text x="-633.6" y="211.5">1440</text><text x="-632.9" y="211.8">2833</text><text x="-633.4" y="212.1">2747</text><text x="-633" y="212.4">9729</text><text x="-633.5" y="212.8">6650</text><text x="-633.4" y="213.1">3323</text><text x="-633.5" y="213.4">1470</text><text x="-632.8" y="213.7">1505</text><text x="-633.1" y="214">1682</text><text x="-633.4" y="214.4">3267</text><text x="-633.6" y="214.7">1698</text><text x="-633.4" y="215">2111</text><text x="-632.7" y="215.3">1764</text><text x="-633.3" y="215.6">2077</text><text x="-632.8" y="215.9">6954</text><text x="-633.2" y="216.2">4265</text><text x="-633.5" y="216.5">2080</text><text x="-632.8" y="216.8">7288</text><text x="-633.6" y="217.1">9669</text><text x="-633.4" y="217.4">5039</text><text x="-633" y="217.7">4370</text><text x="-632.9" y="218">4328</text><text x="-633.1" y="218.3">2834</text><text x="-633.5" y="218.6">9868</text><text x="-633.3" y="218.9">1564</text><text x="-632.8" y="219.3">2433</text><text x="-632.7" y="219.6">5708</text><text x="-632.8" y="219.9">8817</text><text x="-633.5" y="220.2">2636</text><text x="-632.9" y="220.6">3173</text><text x="-633.3" y="220.9">2603</text><text x="-633" y="221.2">4358</text><text x="-633.4" y="221.6">5824</text><text x="-633.1" y="221.9">6228</text><text x="-632.8" y="222.2">6513</text><text x="-633.6" y="222.5">9748</text><text x="-633.2" y="222.9">5278</text><text x="-633.4" y="223.2">1342</text><text x="-633.5" y="223.5">9638</text><text x="-633.6" y="223.9">5205</text><text x="-632.7" y="224.2">5630</text><text x="-633" y="224.5">1793</text><text x="-632.9" y="224.9">7029</text><text x="-633.2" y="225.2">6256</text><text x="-633.6" y="225.5">9253</text><text x="-633.5" y="225.9">8800</text><text x="-632.7" y="226.2">5712</text><text x="-632.9" y="226.5">1507</text><text x="-633.5" y="226.9">7765</text><text x="-633.4" y="227.2">1511</text><text x="-633.1" y="227.5">8150</text><text x="-633.2" y="227.9">2610</text><text x="-632.9" y="228.2">6681</text><text x="-633.5" y="228.6">8683</text><text x="-633.1" y="228.9">1788</text><text x="-633.6" y="229.2">4548</text><text x="-633.3" y="229.6">2489</text><text x="-632.8" y="229.9">5704</text><text x="-633" y="230.3">3791</text><text x="-632.9" y="230.6">9497</text><text x="-633.6" y="230.9">1021</text><text x="-633.3" y="231.3">4310</text><text x="-632.7" y="231.6">5724</text><text x="-632.9" y="232">1884</text><text x="-633.1" y="232.3">1071</text><text x="-633.2" y="232.6">6698</text><text x="-633.3" y="232.9">9041</text><text x="-633.1" y="233.2">2567</text><text x="-633.1" y="233.6">9052</text><text x="-632.7" y="233.9">4023</text><text x="-633.3" y="234.2">9103</text><text x="-633" y="234.5">6688</text><text x="-632.7" y="234.9">5269</text><text x="-633.2" y="235.2">3603</text><text x="-633.7" y="235.5">5648</text><text x="-632.7" y="235.9">4517</text><text x="-632.8" y="236.2">4793</text><text x="-633.4" y="236.5">9164</text><text x="-633" y="236.9">3716</text><text x="-633" y="237.2">2800</text><text x="-633.2" y="237.5">2325</text><text x="-633" y="237.9">9032</text><text x="-633.3" y="238.2">9607</text><text x="-633.2" y="238.5">6351</text><text x="-633.7" y="238.8">6826</text><text x="-633.7" y="239.2">2558</text><text x="-632.7" y="239.5">7574</text><text x="-633.3" y="239.8">7465</text><text x="-633.5" y="240.1">2411</text><text x="-633.6" y="240.5">7916</text><text x="-633.5" y="240.8">1412</text><text x="-633.3" y="241.1">7094</text><text x="-633.3" y="241.4">4377</text><text x="-633.1" y="241.7">5966</text><text x="-633" y="242.1">5312</text><text x="-633.5" y="242.4">8013</text><text x="-633.6" y="242.7">9211</text><text x="-633.6" y="243">3803</text><text x="-633.4" y="243.4">7214</text><text x="-633" y="243.7">4826</text><text x="-633.5" y="244">9743</text><text x="-633.4" y="244.4">3078</text><text x="-633.2" y="244.7">1555</text><text x="-633.3" y="245">6709</text><text x="-633.1" y="245.4">6352</text><text x="-633.3" y="245.7">3544</text><text x="-633.1" y="246">8377</text><text x="-632.8" y="246.4">9923</text><text x="-633" y="246.7">3777</text><text x="-633" y="247">8588</text><text x="-633.7" y="247.4">8189</text><text x="-633.2" y="247.7">5214</text><text x="-633.1" y="248">4785</text><text x="-632.9" y="248.4">3065</text><text x="-632.9" y="248.7">6473</text><text x="-633" y="249">8569</text><text x="-632.8" y="249.4">4898</text><text x="-632.7" y="249.7">9318</text><text x="-633.6" y="250">4138</text><text x="-633.2" y="250.3">5382</text><text x="-633.1" y="250.6">5939</text><text x="-633.3" y="250.9">9772</text><text x="-633" y="251.2">3555</text><text x="-632.9" y="251.6">5056</text><text x="-632.8" y="251.9">6350</text><text x="-633" y="252.2">6711</text><text x="-633" y="252.5">3636</text><text x="-633.4" y="252.8">4870</text><text x="-633.3" y="253.1">6375</text><text x="-633.6" y="253.4">4101</text><text x="-633" y="253.8">5238</text><text x="-633.6" y="254.1">2667</text><text x="-633.3" y="254.4">3696</text><text x="-632.8" y="254.7">2665</text><text x="-632.9" y="255">4201</text><text x="-633.3" y="255.4">7295</text><text x="-633.7" y="255.7">3473</text><text x="-633.1" y="256">3430</text><text x="-633.5" y="256.3">5949</text><text x="-633.1" y="256.7">9899</text><text x="-633.6" y="257">8125</text><text x="-632.8" y="257.3">5486</text><text x="-633.2" y="257.6">4214</text><text x="-633.6" y="258">2790</text><text x="-633" y="258.3">2750</text><text x="-633" y="258.6">5600</text><text x="-632.7" y="258.9">4382</text><text x="-632.9" y="259.3">7362</text><text x="-633" y="259.6">9821</text><text x="-633.4" y="259.9">9364</text><text x="-632.9" y="260.2">1206</text><text x="-633.1" y="260.6">7537</text><text x="-632.9" y="260.9">8152</text><text x="-633.3" y="261.2">4644</text><text x="-633.6" y="261.5">9199</text><text x="-633.3" y="261.8">5853</text><text x="-632.9" y="262.1">8590</text><text x="-633.4" y="262.4">1362</text><text x="-633.7" y="262.7">9461</text><text x="-633.3" y="263">9355</text><text x="-632.8" y="263.3">7630</text><text x="-633.5" y="263.6">1090</text><text x="-633.6" y="263.9">4969</text><text x="-633" y="264.2">8045</text><text x="-632.8" y="264.5">7900</text><text x="-632.9" y="264.8">4744</text><text x="-633.2" y="265.1">4745</text><text x="-633.6" y="265.4">3973</text><text x="-633.3" y="265.8">3035</text><text x="-633.6" y="266.1">8436</text><text x="-632.9" y="266.4">8086</text><text x="-633" y="266.7">6128</text><text x="-633.4" y="267">5256</text><text x="-633.3" y="267.3">9436</text><text x="-633.1" y="267.6">7874</text><text x="-633.4" y="267.9">4971</text><text x="-633" y="268.2">7555</text><text x="-632.8" y="268.6">9703</text><text x="-633.1" y="268.9">5096</text><text x="-632.7" y="269.2">7939</text><text x="-633.3" y="269.5">9718</text><text x="-633" y="269.8">8457</text><text x="-633.2" y="270.1">1322</text><text x="-633.3" y="270.4">7706</text><text x="-633" y="270.8">3999</text><text x="-633.2" y="271.1">6374</text><text x="-632.7" y="271.4">1174</text><text x="-633.6" y="271.7">9483</text><text x="-633.3" y="272">9025</text><text x="-633.7" y="272.3">9568</text><text x="-632.8" y="272.6">9695</text><text x="-633.3" y="272.9">5116</text><text x="-633.4" y="273.3">4569</text><text x="-633" y="273.6">3635</text><text x="-632.8" y="273.9">4273</text><text x="-632.9" y="274.2">6705</text><text x="-632.8" y="274.5">2656</text><text x="-633.5" y="274.8">8483</text><text x="-632.8" y="275.1">9435</text><text x="-633.5" y="275.4">8794</text><text x="-633.1" y="275.7">1263</text><text x="-633.2" y="276">7060</text><text x="-633.3" y="276.3">6617</text><text x="-633.3" y="276.6">7723</text><text x="-633.4" y="276.9">8486</text><text x="-633.3" y="277.2">4442</text><text x="-633" y="277.5">4011</text><text x="-633.4" y="277.8">7430</text><text x="-633" y="278.1">3005</text><text x="-633.4" y="278.4">6824</text><text x="-633.5" y="278.8">1927</text><text x="-633.5" y="279.1">5136</text><text x="-633" y="279.4">5495</text><text x="-633.5" y="279.7">7256</text><text x="-633.7" y="280.1">7548</text><text x="-633.2" y="280.4">2007</text><text x="-633" y="280.7">1218</text><text x="-633.2" y="281">2231</text><text x="-633.6" y="281.3">7858</text><text x="-632.8" y="281.7">9997</text><text x="-632.7" y="282">6769</text><text x="-633.2" y="282.3">5344</text><text x="-633.4" y="282.6">9323</text><text x="-633.5" y="283">4677</text><text x="-633.1" y="283.3">5972</text><text x="-633.7" y="283.6">7561</text><text x="-632.9" y="283.9">4586</text><text x="-633.5" y="284.2">7421</text><text x="-632.8" y="284.6">8571</text><text x="-632.7" y="284.9">4473</text><text x="-632.8" y="285.2">3695</text><text x="-632.8" y="285.5">3118</text><text x="-633.2" y="285.8">2128</text><text x="-633.3" y="286.1">4164</text><text x="-632.9" y="286.4">8686</text><text x="-633.6" y="286.8">4702</text><text x="-633.1" y="287.1">3396</text><text x="-632.8" y="287.4">6785</text><text x="-632.9" y="287.7">7771</text><text x="-633.4" y="288">8669</text><text x="-633.6" y="288.3">5822</text><text x="-632.9" y="288.6">3050</text><text x="-632.7" y="288.9">8690</text><text x="-633.5" y="289.2">6812</text><text x="-632.9" y="289.5">4775</text><text x="-633.7" y="289.8">5381</text><text x="-633.2" y="290.1">7162</text><text x="-633.3" y="290.4">5154</text><text x="-633" y="290.8">7981</text><text x="-633.5" y="291.1">4045</text><text x="-633.2" y="291.4">8890</text><text x="-633" y="291.7">1044</text><text x="-633.6" y="292">5607</text><text x="-632.8" y="292.3">6865</text><text x="-633.4" y="292.6">5013</text><text x="-632.8" y="292.9">5945</text><text x="-633.3" y="293.2">6248</text><text x="-633.1" y="293.5">8856</text><text x="-633.6" y="293.8">8944</text><text x="-632.8" y="294.2">8020</text><text x="-633.3" y="294.5">9493</text><text x="-633.1" y="294.8">6938</text><text x="-633.6" y="295.1">3502</text><text x="-633.6" y="295.4">5967</text><text x="-633.3" y="295.7">7309</text><text x="-632.9" y="296">1934</text><text x="-633" y="296.4">2397</text><text x="-633" y="296.7">6319</text><text x="-633.1" y="297">3300</text><text x="-632.9" y="297.3">6654</text><text x="-632.9" y="297.6">1245</text><text x="-633.5" y="297.9">9547</text><text x="-633.3" y="298.2">4436</text><text x="-633" y="298.6">2179</text><text x="-633.7" y="298.9">5800</text><text x="-632.9" y="299.2">9288</text><text x="-633.3" y="299.5">5982</text><text x="-632.9" y="299.8">1831</text><text x="-633.6" y="300.1">5738</text><text x="-633.6" y="300.4">2169</text><text x="-633" y="300.7">7997</text><text x="-633.5" y="301">2913</text><text x="-633.5" y="301.3">2520</text><text x="-633" y="301.6">7359</text><text x="-633" y="301.9">9231</text><text x="-633.2" y="302.2">3838</text><text x="-633.6" y="302.5">7429</text><text x="-632.9" y="302.8">2250</text><text x="-633.4" y="303.1">2708</text><text x="-633.3" y="303.4">8406</text><text x="-633.2" y="303.7">4297</text><text x="-633.3" y="304">7485</text><text x="-633.6" y="304.3">5378</text><text x="-632.9" y="304.6">2375</text><text x="-633.6" y="304.9">5993</text><text x="-633.1" y="305.2">8300</text><text x="-633.5" y="305.5">6636</text><text x="-633.6" y="305.8">5983</text><text x="-632.9" y="306.1">9005</text><text x="-633.6" y="306.4">7400</text><text x="-633.7" y="306.8">1740</text><text x="-633" y="307.1">6476</text><text x="-632.7" y="307.4">9554</text><text x="-632.8" y="307.7">8322</text><text x="-633.7" y="308">5493</text><text x="-632.7" y="308.3">7455</text><text x="-633.6" y="308.6">6214</text><text x="-632.9" y="308.9">7871</text><text x="-633.4" y="309.2">3433</text><text x="-632.8" y="309.5">2616</text><text x="-632.9" y="309.9">5050</text><text x="-633.4" y="310.2">6675</text><text x="-632.8" y="310.5">2745</text><text x="-633" y="310.8">5348</text><text x="-633.6" y="311.1">1644</text><text x="-633.4" y="311.4">7077</text><text x="-633.6" y="311.7">7875</text><text x="-633.7" y="312.1">4592</text><text x="-632.7" y="312.4">6498</text><text x="-632.9" y="312.7">8230</text><text x="-633.5" y="313">1958</text><text x="-633.4" y="313.3">5547</text><text x="-632.7" y="313.7">1970</text><text x="-633.2" y="314">3166</text><text x="-632.9" y="314.3">4432</text><text x="-633.1" y="314.6">2918</text><text x="-632.8" y="314.9">7775</text><text x="-632.7" y="315.3">2141</text><text x="-633.7" y="315.6">4876</text><text x="-633" y="315.9">9447</text><text x="-633.6" y="316.2">5564</text><text x="-632.8" y="316.5">1478</text><text x="-633.2" y="316.8">4967</text><text x="-632.8" y="317.1">9367</text><text x="-633.1" y="317.4">8417</text><text x="-632.9" y="317.7">2183</text><text x="-633.4" y="318">6737</text><text x="-632.8" y="318.3">5025</text><text x="-633.4" y="318.6">9502</text><text x="-633.2" y="319">5081</text><text x="-632.8" y="319.3">2348</text><text x="-633.1" y="319.6">9550</text><text x="-633.2" y="319.9">5911</text><text x="-633.6" y="320.2">8068</text><text x="-633" y="320.5">7017</text><text x="-632.9" y="320.8">1054</text><text x="-633.7" y="321.2">2313</text><text x="-633.6" y="321.5">7887</text><text x="-633.4" y="321.8">3627</text><text x="-633" y="322.1">4833</text><text x="-632.9" y="322.4">9731</text><text x="-633" y="322.7">5608</text><text x="-632.8" y="323">5076</text><text x="-632.7" y="323.4">6450</text><text x="-633.2" y="323.7">3431</text><text x="-633.1" y="324">7885</text><text x="-633.3" y="324.3">9811</text><text x="-633.1" y="324.6">4071</text><text x="-632.7" y="324.9">9969</text><text x="-633.4" y="325.2">4430</text><text x="-633.4" y="325.5">8869</text><text x="-633.2" y="325.8">6537</text><text x="-633.2" y="326.1">1617</text><text x="-633.4" y="326.4">2478</text><text x="-633.7" y="326.8">6218</text><text x="-633.6" y="327.1">3952</text><text x="-633.4" y="327.4">6211</text><text x="-633.1" y="327.7">6296</text><text x="-633" y="328">1233</text><text x="-633.1" y="328.3">1168</text><text x="-633.7" y="328.6">5994</text><text x="-633.1" y="328.9">1375</text><text x="-633.1" y="329.2">6591</text><text x="-633.1" y="329.5">7033</text><text x="-632.8" y="329.8">9892</text><text x="-633.7" y="330.1">3707</text><text x="-632.7" y="330.4">7624</text><text x="-633.3" y="330.7">9042</text><text x="-633.6" y="331">1769</text><text x="-633" y="331.4">5183</text><text x="-633.3" y="331.7">4966</text><text x="-633.1" y="332">4970</text><text x="-632.9" y="332.3">7202</text><text x="-632.9" y="332.6">8352</text><text x="-632.8" y="332.9">9131</text><text x="-633.5" y="333.2">1277</text><text x="-633.5" y="333.5">9464</text><text x="-633.6" y="333.8">6883</text><text x="-632.7" y="334.1">4404</text><text x="-633.4" y="334.4">9588</text><text x="-633" y="334.7">2039</text><text x="-633.3" y="335">9945</text><text x="-633.2" y="335.3">1773</text><text x="-633" y="335.7">8058</text><text x="-633.7" y="336">6398</text><text x="-632.7" y="336.3">9282</text><text x="-633.4" y="336.6">3796</text><text x="-633.6" y="336.9">4887</text><text x="-633.2" y="337.2">7377</text><text x="-633.3" y="337.6">5305</text><text x="-633.7" y="337.9">5539</text><text x="-632.9" y="338.2">7312</text><text x="-633.3" y="338.5">8473</text><text x="-633.4" y="338.8">2726</text><text x="-633.1" y="339.1">3327</text><text x="-633.4" y="339.4">9797</text><text x="-633.1" y="339.8">3801</text><text x="-633.2" y="340.1">4460</text><text x="-633.3" y="340.4">3060</text><text x="-633.4" y="340.7">5538</text><text x="-633" y="341">1431</text><text x="-633.3" y="341.3">7772</text><text x="-633.2" y="341.6">3368</text><text x="-632.9" y="341.9">3399</text><text x="-633.3" y="342.2">3909</text><text x="-633" y="342.6">7780</text><text x="-633.6" y="342.9">5044</text><text x="-633.2" y="343.2">4307</text><text x="-633.4" y="343.5">3733</text><text x="-633.2" y="343.9">5126</text><text x="-633.2" y="344.2">3225</text><text x="-632.9" y="344.5">8151</text><text x="-632.8" y="344.8">5148</text><text x="-633.6" y="345.1">3824</text><text x="-633.2" y="345.5">8987</text><text x="-633.2" y="345.8">9335</text><text x="-633.2" y="346.1">6362</text><text x="-633.5" y="346.4">5032</text><text x="-632.9" y="346.7">7487</text><text x="-632.9" y="347.1">1966</text><text x="-633.5" y="347.4">3710</text><text x="-633.2" y="347.7">2575</text><text x="-633.3" y="348">3597</text><text x="-633.5" y="348.3">6842</text><text x="-633.6" y="348.6">3451</text><text x="-633.6" y="349">2045</text><text x="-632.7" y="349.3">5804</text><text x="-633.1" y="349.6">8968</text><text x="-633.5" y="349.9">6200</text><text x="-633.5" y="350.2">1717</text><text x="-632.8" y="350.6">7424</text><text x="-632.9" y="350.9">1328</text><text x="-633" y="351.2">4267</text><text x="-632.8" y="351.5">6920</text><text x="-633.1" y="351.8">5540</text><text x="-633.5" y="352.2">8254</text><text x="-633.2" y="352.5">4326</text><text x="-633.2" y="352.8">5467</text><text x="-632.8" y="353.1">5702</text><text x="-633.1" y="353.4">1407</text><text x="-633.7" y="353.7">4264</text><text x="-633.4" y="354">3460</text><text x="-633.1" y="354.3">1888</text><text x="-633.2" y="354.6">1050</text><text x="-633.5" y="355">1380</text><text x="-633.5" y="355.3">2555</text><text x="-632.8" y="355.6">7733</text><text x="-633.4" y="355.9">8548</text><text x="-633.1" y="356.2">4891</text><text x="-633.2" y="356.5">5986</text><text x="-632.9" y="356.8">7274</text><text x="-633.1" y="357.1">6390</text><text x="-633" y="357.4">1492</text><text x="-633.1" y="357.7">7463</text><text x="-632.7" y="358">5102</text><text x="-632.9" y="358.4">8453</text><text x="-633.3" y="358.7">5453</text><text x="-632.8" y="359">6011</text><text x="-632.9" y="359.3">4080</text><text x="-633.4" y="359.6">6051</text><text x="-633" y="359.9">2204</text><text x="-633" y="360.2">6134</text><text x="-632.9" y="360.5">6518</text><text x="-633.5" y="360.8">6704</text><text x="-632.8" y="361.2">6645</text><text x="-633.3" y="361.5">5884</text><text x="-633.6" y="361.8">8178</text><text x="-632.9" y="362.1">6578</text><text x="-633.1" y="362.4">1679</text><text x="-633.5" y="362.8">2740</text><text x="-633.3" y="363.1">1323</text><text x="-633.1" y="363.4">6464</text><text x="-632.7" y="363.7">6190</text><text x="-633.1" y="364">4750</text><text x="-633.1" y="364.3">9077</text><text x="-633.4" y="364.6">7247</text><text x="-633" y="364.9">2424</text><text x="-633.1" y="365.2">1830</text><text x="-633.3" y="365.5">6436</text><text x="-633.5" y="365.9">2485</text><text x="-633.1" y="366.2">8120</text><text x="-633.1" y="366.5">1302</text><text x="-633.3" y="366.8">4453</text><text x="-633.6" y="367.1">7344</text><text x="-632.9" y="367.4">1824</text><text x="-633.7" y="367.7">8488</text><text x="-633.4" y="368">9511</text><text x="-633.1" y="368.3">9616</text><text x="-633.4" y="368.6">1109</text><text x="-633" y="368.9">4021</text><text x="-632.8" y="369.3">8142</text><text x="-633.5" y="369.6">7738</text><text x="-633.1" y="369.9">2136</text><text x="-633.2" y="370.2">7443</text><text x="-633.2" y="370.5">3534</text><text x="-633.6" y="370.8">5604</text><text x="-633.5" y="371.1">6817</text><text x="-632.7" y="371.5">3113</text><text x="-633.3" y="371.8">8065</text><text x="-633.2" y="372.1">3474</text><text x="-633.2" y="372.4">2513</text><text x="-633.5" y="372.7">4455</text><text x="-633.1" y="373">1280</text><text x="-633.2" y="373.3">9486</text><text x="-633.6" y="373.7">1167</text><text x="-633.1" y="374">4528</text><text x="-633.2" y="374.3">5639</text><text x="-633.2" y="374.6">6257</text><text x="-633.5" y="374.9">5737</text><text x="-633.4" y="375.2">8650</text><text x="-633.4" y="375.5">9262</text><text x="-633.1" y="375.8">1447</text><text x="-632.7" y="376.1">5077</text><text x="-633.4" y="376.4">5649</text><text x="-633.3" y="376.7">5277</text><text x="-633.5" y="377">9284</text><text x="-633.5" y="377.3">7756</text><text x="-632.8" y="377.6">1973</text><text x="-632.9" y="378">7338</text><text x="-632.8" y="378.3">7638</text><text x="-633.5" y="378.6">4449</text><text x="-632.8" y="378.9">5713</text><text x="-632.8" y="379.2">6699</text><text x="-633.5" y="379.5">8525</text><text x="-633.3" y="379.8">4314</text><text x="-632.8" y="380.1">4657</text><text x="-633.4" y="380.4">1550</text><text x="-633.4" y="380.8">1115</text><text x="-633.2" y="381.1">9794</text><text x="-632.8" y="381.4">4171</text><text x="-633.4" y="381.7">5864</text><text x="-633.1" y="382">5849</text><text x="-633.3" y="382.3">8681</text><text x="-633.7" y="382.6">6401</text><text x="-633.5" y="383">2272</text><text x="-633.6" y="383.3">4894</text><text x="-632.8" y="383.6">7306</text><text x="-633" y="383.9">4378</text><text x="-633.2" y="384.2">9254</text><text x="-632.7" y="384.5">1835</text><text x="-633.7" y="384.8">8988</text><text x="-633" y="385.1">6279</text><text x="-633" y="385.5">9488</text><text x="-633" y="385.8">2738</text><text x="-633" y="386.1">8338</text><text x="-633.6" y="386.4">2243</text><text x="-633.3" y="386.7">6135</text><text x="-633.2" y="387">1127</text><text x="-633.1" y="387.3">4497</text><text x="-632.8" y="387.6">1039</text><text x="-633" y="387.9">1076</text><text x="-633.6" y="388.2">6601</text><text x="-633.5" y="388.5">6483</text><text x="-633.6" y="388.8">1996</text><text x="-633" y="389.1">8032</text><text x="-632.9" y="389.5">1722</text><text x="-632.8" y="389.8">2787</text><text x="-633.2" y="390.1">8123</text><text x="-633.1" y="390.4">1994</text><text x="-633.2" y="390.7">2056</text><text x="-633.2" y="391">4869</text><text x="-633.3" y="391.3">1145</text><text x="-633.1" y="391.6">3256</text><text x="-633.5" y="391.9">6892</text><text x="-632.9" y="392.2">5661</text><text x="-633.6" y="392.5">2984</text><text x="-633.3" y="392.8">4692</text><text x="-632.8" y="393.2">7009</text><text x="-633" y="393.5">7096</text><text x="-633.2" y="393.8">2535</text><text x="-633.1" y="394.1">8559</text><text x="-633.3" y="394.4">1410</text><text x="-633" y="394.8">9708</text><text x="-633" y="395.1">7340</text><text x="-633.5" y="395.4">7121</text><text x="-633" y="395.7">6845</text><text x="-633.4" y="396">6692</text><text x="-633.5" y="396.3">8008</text><text x="-633.3" y="396.7">2186</text><text x="-633.2" y="397">6977</text><text x="-633.6" y="397.3">7220</text><text x="-633.1" y="397.6">1690</text><text x="-633.6" y="397.9">3401</text><text x="-632.8" y="398.3">6149</text><text x="-633.1" y="398.6">5566</text><text x="-633.3" y="398.9">6810</text><text x="-632.7" y="399.2">5080</text><text x="-633.6" y="399.5">4773</text><text x="-632.8" y="399.8">6484</text><text x="-633.3" y="400.1">8637</text><text x="-632.9" y="400.4">8290</text><text x="-633.6" y="400.7">3081</text><text x="-633.3" y="401">9269</text><text x="-633.5" y="401.3">9056</text><text x="-633.2" y="401.6">6875</text><text x="-633.4" y="401.9">1261</text><text x="-633.4" y="402.2">1093</text><text x="-633" y="402.6">9920</text><text x="-632.9" y="402.9">1120</text><text x="-633.5" y="403.2">8236</text><text x="-632.8" y="403.5">6330</text><text x="-633.6" y="403.8">6624</text><text x="-632.9" y="404.1">7695</text><text x="-632.8" y="404.4">6064</text><text x="-632.8" y="404.7">1652</text><text x="-633.5" y="405">4186</text><text x="-633.7" y="405.3">3548</text><text x="-633.1" y="405.6">3559</text><text x="-633.4" y="405.9">9744</text><text x="-633" y="406.2">5916</text><text x="-633.6" y="406.5">2359</text><text x="-633.4" y="406.8">8845</text><text x="-632.9" y="407.1">8053</text><text x="-632.8" y="407.4">7839</text><text x="-633.4" y="407.7">4984</text><text x="-632.7" y="408">5988</text><text x="-633.5" y="408.3">1489</text><text x="-633" y="408.6">3590</text><text x="-632.9" y="409">9260</text><text x="-633.3" y="409.3">8772</text><text x="-633" y="409.6">5710</text><text x="-633.3" y="409.9">6961</text><text x="-632.9" y="410.2">4594</text><text x="-633.6" y="410.6">4848</text><text x="-633" y="410.9">6544</text><text x="-633.5" y="411.2">2363</text><text x="-632.9" y="411.5">2187</text><text x="-633.5" y="411.8">7531</text><text x="-633.7" y="412.2">9531</text><text x="-633.1" y="412.5">3975</text><text x="-632.7" y="412.8">8814</text><text x="-633.1" y="413.1">6282</text><text x="-633.3" y="413.4">2343</text><text x="-632.9" y="413.7">6158</text><text x="-633.2" y="414">7568</text><text x="-632.8" y="414.4">4423</text><text x="-633.2" y="414.7">4907</text><text x="-633.4" y="415">4159</text><text x="-633.1" y="415.3">7374</text><text x="-633.4" y="415.6">7440</text><text x="-632.8" y="415.9">4708</text><text x="-633.5" y="416.3">8740</text><text x="-632.8" y="416.6">3228</text><text x="-633.6" y="416.9">7427</text><text x="-633.7" y="417.2">7183</text><text x="-633.6" y="417.5">5643</text><text x="-633.2" y="417.9">3735</text><text x="-633" y="418.2">9600</text><text x="-633" y="418.5">3292</text><text x="-633.5" y="418.8">8859</text><text x="-633.2" y="419.1">6094</text><text x="-633.6" y="419.5">6332</text><text x="-632.8" y="419.8">6761</text><text x="-633.2" y="420.1">7569</text><text x="-633.6" y="420.4">7778</text><text x="-633.3" y="420.7">5914</text><text x="-633.2" y="421">3720</text><text x="-632.8" y="421.4">8899</text><text x="-632.8" y="421.7">5962</text><text x="-633" y="422">6945</text><text x="-633.6" y="422.3">1126</text><text x="-633.5" y="422.6">7809</text><text x="-632.9" y="423">2237</text><text x="-633.6" y="423.3">5924</text><text x="-632.7" y="423.6">7820</text><text x="-633.3" y="423.9">3528</text><text x="-633.7" y="424.2">5789</text><text x="-633" y="424.5">4510</text><text x="-633.6" y="424.9">8275</text><text x="-633.4" y="425.2">9700</text><text x="-632.8" y="425.5">4085</text><text x="-633" y="425.8">9645</text><text x="-633.1" y="426.1">6610</text><text x="-632.9" y="426.4">4081</text><text x="-633.4" y="426.7">5929</text><text x="-632.9" y="427">7319</text><text x="-633.5" y="427.4">8340</text><text x="-633" y="427.7">2919</text><text x="-632.8" y="428">7614</text><text x="-633.3" y="428.3">4696</text><text x="-632.8" y="428.6">3320</text><text x="-633.3" y="428.9">6640</text><text x="-633.5" y="429.2">1013</text><text x="-633.3" y="429.5">3633</text><text x="-633.2" y="429.8">3154</text><text x="-632.7" y="430.2">3195</text><text x="-633.2" y="430.5">4461</text><text x="-632.8" y="430.8">2288</text><text x="-633.3" y="431.1">5805</text><text x="-632.8" y="431.4">8541</text><text x="-633.3" y="431.7">7684</text><text x="-633.1" y="432">7253</text><text x="-633.1" y="432.4">8269</text><text x="-633.4" y="432.7">9471</text><text x="-632.9" y="433">1346</text><text x="-632.9" y="433.3">3363</text><text x="-633.6" y="433.6">7825</text><text x="-633" y="434">2152</text><text x="-633.5" y="434.3">7649</text><text x="-633.6" y="434.6">8295</text><text x="-633.2" y="434.9">8104</text><text x="-632.8" y="435.2">5685</text><text x="-632.8" y="435.5">8996</text><text x="-633.6" y="435.8">3243</text><text x="-632.8" y="436.1">7972</text><text x="-633.2" y="436.4">8829</text><text x="-633.2" y="436.7">7611</text><text x="-632.8" y="437.1">5487</text><text x="-633.2" y="437.4">6608</text><text x="-632.9" y="437.7">7365</text><text x="-633.2" y="438">8485</text><text x="-633.2" y="438.3">5095</text><text x="-633.1" y="438.6">3841</text><text x="-632.9" y="438.9">5379</text><text x="-633.1" y="439.2">1696</text><text x="-632.9" y="439.5">5423</text><text x="-632.8" y="439.8">5535</text><text x="-632.9" y="440.1">9291</text><text x="-633.6" y="440.4">7532</text><text x="-633.2" y="440.7">4127</text><text x="-633.6" y="441">2641</text><text x="-632.7" y="441.3">7452</text><text x="-633.6" y="441.7">7145</text><text x="-633.2" y="442">6916</text><text x="-633.5" y="442.3">8632</text><text x="-633.3" y="442.6">2917</text><text x="-633.4" y="442.9">3535</text><text x="-632.9" y="443.2">5971</text><text x="-633.5" y="443.5">1471</text><text x="-632.9" y="443.8">6551</text><text x="-633" y="444.1">4239</text><text x="-632.7" y="444.4">4811</text><text x="-633.1" y="444.7">6802</text><text x="-633.2" y="445">2692</text><text x="-633" y="445.3">8585</text><text x="-633.6" y="445.6">3086</text><text x="-632.8" y="446">5803</text><text x="-633.3" y="446.3">9915</text><text x="-632.9" y="446.6">8906</text><text x="-633.3" y="447">9175</text><text x="-633.5" y="447.3">4153</text><text x="-633.4" y="447.6">4766</text><text x="-632.8" y="447.9">5428</text><text x="-632.9" y="448.2">1718</text><text x="-633.3" y="448.6">5392</text><text x="-633.7" y="448.9">7607</text><text x="-632.7" y="449.2">9398</text><text x="-633.3" y="449.5">7325</text><text x="-633.4" y="449.8">1513</text><text x="-633.5" y="450.1">2907</text><text x="-633" y="450.4">4261</text><text x="-633.5" y="450.7">5748</text><text x="-633.2" y="451">5268</text><text x="-633.6" y="451.3">8347</text><text x="-632.7" y="451.6">3126</text><text x="-633.6" y="451.9">8250</text><text x="-633.1" y="452.2">7826</text><text x="-633.1" y="452.6">5275</text><text x="-632.8" y="452.9">3629</text><text x="-632.9" y="453.2">4904</text><text x="-633.4" y="453.5">5146</text><text x="-633.4" y="453.8">5827</text><text x="-632.9" y="454.2">2653</text><text x="-633" y="454.5">2549</text><text x="-632.8" y="454.8">9277</text><text x="-632.9" y="455.1">9035</text><text x="-632.9" y="455.4">1755</text><text x="-633" y="455.7">2480</text><text x="-633.7" y="456">7601</text><text x="-633.7" y="456.3">6743</text><text x="-633.5" y="456.6">3374</text><text x="-633.2" y="456.9">3972</text><text x="-633.2" y="457.2">5733</text><text x="-633.5" y="457.5">5623</text><text x="-633.6" y="457.8">3940</text><text x="-633.5" y="458.1">9176</text><text x="-633.3" y="458.4">7386</text><text x="-632.9" y="458.8">5237</text><text x="-633.3" y="459.1">9207</text><text x="-633.5" y="459.4">2220</text><text x="-633.5" y="459.7">3017</text><text x="-632.8" y="460">9573</text><text x="-633.4" y="460.3">8558</text><text x="-633" y="460.7">5040</text><text x="-632.9" y="461">4064</text><text x="-633.7" y="461.3">8097</text><text x="-633.4" y="461.6">1869</text><text x="-633.4" y="461.9">4044</text><text x="-632.8" y="462.2">6183</text><text x="-633.5" y="462.5">4796</text><text x="-633.6" y="462.9">7449</text><text x="-633.6" y="463.2">1669</text><text x="-633.4" y="463.5">2279</text><text x="-633.5" y="463.8">3586</text><text x="-633.5" y="464.1">5892</text><text x="-633.3" y="464.4">1248</text><text x="-633.1" y="464.7">3825</text><text x="-633.5" y="465">3298</text><text x="-633.5" y="465.3">5255</text><text x="-633.6" y="465.6">5973</text><text x="-633" y="465.9">9097</text><text x="-633.7" y="466.2">1770</text><text x="-633.2" y="466.5">1275</text><text x="-633.6" y="466.8">9819</text><text x="-632.8" y="467.1">8133</text><text x="-633.7" y="467.4">8094</text><text x="-633.5" y="467.7">5632</text><text x="-633" y="468">4983</text><text x="-633.5" y="468.3">5806</text><text x="-632.9" y="468.6">5646</text><text x="-632.9" y="468.9">2749</text><text x="-633.2" y="469.2">3143</text><text x="-632.9" y="469.5">8581</text><text x="-633.2" y="469.8">7383</text><text x="-633.6" y="470.2">8808</text><text x="-633.4" y="470.5">4489</text><text x="-633.4" y="470.8">9611</text><text x="-633.1" y="471.1">4660</text><text x="-633.5" y="471.5">7285</text><text x="-633.5" y="471.8">5858</text><text x="-633.4" y="472.1">7707</text><text x="-633.6" y="472.5">9007</text><text x="-633.5" y="472.8">2072</text><text x="-633.1" y="473.1">3080</text><text x="-632.8" y="473.4">7911</text><text x="-633.4" y="473.7">1310</text><text x="-633.5" y="474">3775</text><text x="-633" y="474.3">2646</text><text x="-633.3" y="474.6">8689</text><text x="-633.5" y="474.9">4098</text><text x="-633.5" y="475.2">1685</text><text x="-632.7" y="475.5">1225</text><text x="-633.2" y="475.8">1417</text><text x="-632.7" y="476.1">1285</text><text x="-632.8" y="476.4">8872</text><text x="-633.5" y="476.8">4028</text><text x="-633.1" y="477.1">8132</text><text x="-633.3" y="477.4">6780</text><text x="-633.2" y="477.7">4754</text><text x="-633" y="478">4988</text><text x="-632.9" y="478.3">7927</text><text x="-633.1" y="478.6">8454</text><text x="-633.5" y="479">8330</text><text x="-633.3" y="479.3">1525</text><text x="-633" y="479.6">8069</text><text x="-632.8" y="479.9">5899</text><text x="-633" y="480.2">6241</text><text x="-633.4" y="480.5">4255</text><text x="-633.1" y="480.9">8554</text><text x="-633.4" y="481.2">1982</text><text x="-633.5" y="481.5">6786</text><text x="-632.8" y="481.8">1736</text><text x="-633.4" y="482.1">3106</text><text x="-632.7" y="482.5">3610</text><text x="-633.5" y="482.8">5624</text><text x="-632.9" y="483.1">2910</text><text x="-633" y="483.4">9210</text><text x="-633.7" y="483.8">1735</text><text x="-633.1" y="484.1">8543</text><text x="-632.9" y="484.4">6486</text><text x="-633.6" y="484.7">5149</text><text x="-633.3" y="485">4220</text><text x="-633.6" y="485.4">2496</text><text x="-633.1" y="485.7">4672</text><text x="-633.2" y="486">7960</text><text x="-633.7" y="486.3">2308</text><text x="-633.2" y="486.7">4038</text><text x="-633.7" y="487">2926</text><text x="-632.9" y="487.3">6904</text><text x="-633.5" y="487.6">2816</text><text x="-632.9" y="487.9">2410</text><text x="-633.2" y="488.3">1316</text><text x="-632.7" y="488.6">3096</text><text x="-632.9" y="488.9">3883</text><text x="-633.6" y="489.2">1485</text><text x="-633.2" y="489.5">8395</text><text x="-633.5" y="489.8">5528</text><text x="-633" y="490.1">8410</text><text x="-633.1" y="490.4">1227</text><text x="-632.8" y="490.7">9248</text><text x="-633.3" y="491">8529</text><text x="-633.6" y="491.4">1385</text><text x="-633.2" y="491.7">3112</text><text x="-633.1" y="492">7441</text><text x="-633.6" y="492.3">9427</text><text x="-633.6" y="492.6">6813</text><text x="-633.4" y="492.9">7058</text><text x="-632.8" y="493.2">9359</text><text x="-633.3" y="493.5">7239</text><text x="-633.1" y="493.8">4960</text><text x="-633.7" y="494.1">1456</text><text x="-633.1" y="494.4">1827</text><text x="-633.4" y="494.7">8878</text><text x="-633.3" y="495">3602</text><text x="-633.1" y="495.3">7184</text><text x="-633.2" y="495.6">9943</text><text x="-633.4" y="495.9">2629</text><text x="-633.6" y="496.2">6545</text><text x="-633.2" y="496.5">7129</text><text x="-633.1" y="496.8">9584</text><text x="-633.7" y="497.1">5831</text><text x="-632.8" y="497.4">5845</text><text x="-633.5" y="497.7">4614</text><text x="-633.4" y="498">7208</text><text x="-633.3" y="498.3">6345</text><text x="-633.1" y="498.6">1863</text><text x="-633.5" y="498.9">4856</text><text x="-633.6" y="499.2">3653</text><text x="-633.4" y="499.5">9227</text><text x="-633.4" y="499.8">3105</text><text x="-632.7" y="500.1">4195</text><text x="-633" y="500.4">2016</text><text x="-632.8" y="500.7">9109</text><text x="-633.7" y="501">4942</text><text x="-633.6" y="501.3">4110</text><text x="-632.8" y="501.6">2380</text><text x="-633.3" y="501.9">4615</text><text x="-633.3" y="502.2">9810</text><text x="-632.7" y="502.5">7615</text><text x="-633.1" y="502.8">2172</text><text x="-633.4" y="503.1">8489</text><text x="-633.3" y="503.4">8727</text><text x="-633" y="503.8">8308</text><text x="-633.5" y="504.1">9800</text><text x="-633" y="504.4">9117</text><text x="-633.2" y="504.7">8862</text><text x="-633.1" y="505">8475</text><text x="-633.7" y="505.3">2598</text><text x="-633.3" y="505.6">7544</text><text x="-633.5" y="505.9">1295</text><text x="-633.4" y="506.2">2285</text><text x="-633.1" y="506.5">7822</text><text x="-633.7" y="506.8">2806</text><text x="-633.4" y="507.1">1637</text><text x="-633.4" y="507.4">9519</text><text x="-633" y="507.7">8100</text><text x="-632.9" y="508">4056</text><text x="-633.3" y="508.3">8280</text><text x="-633.5" y="508.6">7136</text><text x="-633.5" y="508.9">2144</text><text x="-633" y="509.2">7375</text><text x="-632.8" y="509.5">4663</text><text x="-633.2" y="509.8">9516</text><text x="-633.6" y="510.1">4154</text><text x="-632.9" y="510.4">7899</text><text x="-633.4" y="510.8">1178</text><text x="-632.9" y="511.1">9960</text><text x="-633" y="511.4">1615</text><text x="-632.8" y="511.7">4705</text><text x="-633" y="512">3783</text><text x="-633.1" y="512.4">3642</text><text x="-633.7" y="512.7">7742</text><text x="-633.7" y="513">2915</text><text x="-632.9" y="513.3">4911</text><text x="-633" y="513.6">1947</text><text x="-633.6" y="513.9">6146</text><text x="-632.9" y="514.3">3998</text><text x="-633" y="514.6">9187</text><text x="-633.1" y="514.9">3719</text><text x="-632.8" y="515.2">2815</text><text x="-633" y="515.5">9424</text><text x="-633.1" y="515.8">1464</text><text x="-633.1" y="516.1">2476</text><text x="-633.7" y="516.5">6846</text><text x="-633" y="516.8">4697</text><text x="-632.9" y="517.1">5533</text><text x="-633.6" y="517.4">8285</text><text x="-633.2" y="517.7">2185</text><text x="-633.5" y="518">4596</text><text x="-633.3" y="518.3">9983</text><text x="-633.5" y="518.6">2223</text><text x="-633" y="519">3182</text><text x="-632.9" y="519.3">4426</text><text x="-633.5" y="519.6">4373</text><text x="-633.2" y="519.9">3021</text><text x="-633.3" y="520.2">2275</text><text x="-633.4" y="520.5">1208</text><text x="-633.5" y="520.8">3220</text><text x="-633" y="521.1">5677</text><text x="-633.1" y="521.4">7877</text><text x="-633.6" y="521.8">3429</text><text x="-633.2" y="522.1">3740</text><text x="-633" y="522.4">7587</text><text x="-633.3" y="522.7">2374</text><text x="-633" y="523">3135</text><text x="-633.5" y="523.3">5022</text><text x="-632.7" y="523.6">1894</text><text x="-633.5" y="523.9">3605</text><text x="-633.3" y="524.2">4737</text><text x="-633.1" y="524.5">8398</text><text x="-633.6" y="524.8">4952</text><text x="-633" y="525.1">1935</text><text x="-632.9" y="525.4">2256</text><text x="-632.8" y="525.7">5206</text><text x="-633.2" y="526.1">1465</text><text x="-633.5" y="526.4">6169</text><text x="-633.4" y="526.7">8332</text><text x="-633.1" y="527.1">9478</text><text x="-633.5" y="527.4">6474</text><text x="-632.8" y="527.7">2729</text><text x="-633" y="528">5587</text><text x="-633.3" y="528.4">8503</text><text x="-633.7" y="528.7">7842</text><text x="-633.3" y="529">3344</text><text x="-633.4" y="529.4">1976</text><text x="-633.5" y="529.7">3111</text><text x="-633.1" y="530">8812</text><text x="-633.6" y="530.3">2651</text><text x="-633.4" y="530.7">3984</text><text x="-633" y="531">4539</text><text x="-633.1" y="531.3">3142</text><text x="-633.5" y="531.6">2955</text><text x="-633" y="532">2950</text><text x="-632.9" y="532.3">1799</text><text x="-633.6" y="532.6">4196</text><text x="-633.2" y="532.9">9551</text><text x="-633.2" y="533.2">9078</text><text x="-633.4" y="533.6">8341</text><text x="-633.6" y="533.9">2328</text><text x="-632.8" y="534.2">9460</text><text x="-633" y="534.5">7818</text><text x="-632.8" y="534.8">6951</text><text x="-633.1" y="535.1">3404</text><text x="-633.2" y="535.4">9862</text><text x="-633.6" y="535.8">8610</text><text x="-633.4" y="536.1">1131</text><text x="-633.3" y="536.4">4621</text><text x="-633.1" y="536.7">8750</text><text x="-633.3" y="537">5159</text><text x="-633" y="537.3">3792</text><text x="-633.5" y="537.6">5184</text><text x="-633.5" y="538">2148</text><text x="-633.5" y="538.3">4629</text><text x="-632.9" y="538.6">1015</text><text x="-633.4" y="538.9">7468</text><text x="-633.5" y="539.2">7817</text><text x="-633.2" y="539.5">9500</text><text x="-633.6" y="539.8">3346</text><text x="-633.6" y="540.1">2522</text><text x="-633.4" y="540.4">3949</text><text x="-633.5" y="540.7">9061</text><text x="-633.3" y="541">1332</text><text x="-633.6" y="541.3">4350</text><text x="-632.8" y="541.6">2788</text><text x="-633.4" y="541.9">9457</text><text x="-633.4" y="542.2">5680</text><text x="-633.3" y="542.5">8628</text><text x="-633" y="542.8">2131</text><text x="-632.8" y="543.1">7908</text><text x="-633.3" y="543.4">2475</text><text x="-633.5" y="543.7">5273</text><text x="-633" y="544">7311</text><text x="-632.9" y="544.4">2887</text><text x="-632.9" y="544.7">6829</text><text x="-632.8" y="545">2438</text><text x="-633.4" y="545.3">2611</text><text x="-633.7" y="545.6">5920</text><text x="-633.5" y="545.9">1649</text><text x="-633.1" y="546.2">7790</text><text x="-633.4" y="546.5">1716</text><text x="-632.8" y="546.9">8490</text><text x="-633.5" y="547.2">5985</text><text x="-633" y="547.5">6987</text><text x="-632.7" y="547.8">5058</text><text x="-633.3" y="548.1">7236</text><text x="-632.8" y="548.5">9671</text><text x="-633" y="548.8">2436</text><text x="-632.8" y="549.1">2687</text><text x="-633.1" y="549.4">2122</text><text x="-633.3" y="549.7">9690</text><text x="-633.5" y="550">6487</text><text x="-632.7" y="550.4">6797</text><text x="-633.5" y="550.7">6148</text><text x="-632.8" y="551">7648</text><text x="-632.9" y="551.3">2574</text><text x="-633.3" y="551.6">5775</text><text x="-633" y="551.9">3523</text><text x="-633" y="552.3">2657</text><text x="-633.3" y="552.7">1082</text><text x="-632.9" y="553.1">1538</text><text x="-633.5" y="553.5">6670</text><text x="-632.9" y="553.9">7002</text><text x="-633.5" y="554.3">9294</text><text x="-633.5" y="554.7">4343</text><text x="-633.2" y="555.1">9247</text><text x="-632.7" y="555.5">6911</text><text x="-633.5" y="555.9">1453</text><text x="-632.7" y="556.3">5247</text><text x="-633.2" y="556.7">7640</text><text x="-633.1" y="557.1">3847</text><text x="-632.8" y="557.5">3746</text><text x="-633.3" y="557.9">3308</text><text x="-633.4" y="558.2">7896</text><text x="-633.3" y="558.6">6236</text><text x="-633.1" y="559">8082</text><text x="-633.2" y="559.4">5038</text><text x="-633.3" y="559.8">1739</text><text x="-632.9" y="560.2">8796</text><text x="-633.6" y="560.5">4354</text><text x="-633.7" y="560.9">7250</text><text x="-633.5" y="561.3">8697</text><text x="-633.7" y="561.6">2091</text><text x="-633" y="562">8143</text><text x="-633.7" y="562.4">6451</text><text x="-632.8" y="562.8">3181</text><text x="-633.2" y="563.1">3034</text><text x="-632.8" y="563.5">2524</text><text x="-633.2" y="563.9">5613</text><text x="-633.4" y="564.2">7812</text><text x="-633.4" y="564.6">4007</text><text x="-633.2" y="565">1300</text><text x="-633" y="565.3">2339</text><text x="-632.9" y="565.7">6752</text><text x="-633.1" y="566">4040</text><text x="-633" y="566.4">5709</text><text x="-632.9" y="566.8">5873</text><text x="-633.4" y="567.1">8029</text><text x="-633.2" y="567.5">1038</text><text x="-633.1" y="567.9">3917</text><text x="-632.9" y="568.4">9801</text><text x="-633.4" y="568.8">4651</text><text x="-632.9" y="569.2">5224</text><text x="-633" y="569.6">1584</text><text x="-633.3" y="570">1989</text><text x="-633.4" y="570.3">3922</text><text x="-633.7" y="570.7">6853</text><text x="-633.4" y="571.1">3004</text><text x="-633.6" y="571.4">7689</text><text x="-633.6" y="571.8">7799</text><text x="-633.4" y="572.2">8089</text><text x="-633.4" y="572.6">8698</text><text x="-632.8" y="572.9">7382</text><text x="-632.9" y="573.3">9382</text><text x="-632.7" y="573.7">8111</text><text x="-633.6" y="574.1">9955</text><text x="-633.4" y="574.4">5721</text><text x="-633.3" y="574.8">7154</text><text x="-633" y="575.2">1501</text><text x="-633.1" y="575.6">3388</text><text x="-632.9" y="576">9416</text><text x="-633.3" y="576.4">1882</text><text x="-633.7" y="576.8">8394</text><text x="-633" y="577.2">9837</text><text x="-632.7" y="577.6">8931</text><text x="-632.9" y="578">8572</text><text x="-633.1" y="578.4">1210</text><text x="-633.6" y="578.8">5345</text><text x="-633.5" y="579.2">7590</text><text x="-633.2" y="579.6">5401</text><text x="-632.8" y="580">2100</text><text x="-632.8" y="580.4">1169</text><text x="-632.9" y="580.8">2995</text><text x="-633.5" y="581.1">1725</text><text x="-633.2" y="581.5">2832</text><text x="-633.7" y="581.9">6071</text><text x="-633.6" y="582.3">2494</text><text x="-633.5" y="582.7">9173</text><text x="-633.2" y="583.1">9762</text><text x="-633.5" y="583.5">9344</text><text x="-632.8" y="583.8">3051</text><text x="-632.8" y="584.2">5549</text><text x="-633.3" y="584.6">7694</text><text x="-633.2" y="585">1246</text><text x="-632.9" y="585.4">1159</text><text x="-633" y="585.7">1790</text><text x="-632.7" y="586.1">6725</text><text x="-633.6" y="586.5">7051</text><text x="-633.4" y="586.9">8576</text><text x="-633.6" y="587.2">3141</text><text x="-633.7" y="587.6">1144</text><text x="-633.1" y="588">7859</text><text x="-633.4" y="588.4">5910</text><text x="-633.1" y="588.7">6216</text><text x="-633.5" y="589.1">5722</text><text x="-633.5" y="589.5">4800</text><text x="-632.8" y="589.9">9505</text><text x="-632.7" y="590.2">2952</text><text x="-632.9" y="590.6">6756</text><text x="-633.3" y="591">9712</text><text x="-633.1" y="591.4">1842</text><text x="-632.7" y="591.8">3872</text><text x="-633.5" y="592.2">8799</text><text x="-633.5" y="592.6">9088</text><text x="-633.2" y="593">9666</text><text x="-632.7" y="593.4">2466</text><text x="-633.6" y="593.8">1370</text><text x="-633.2" y="594.2">3236</text><text x="-632.8" y="594.6">9537</text><text x="-633" y="595">4808</text><text x="-633.3" y="595.4">5043</text><text x="-633.6" y="595.8">5799</text><text x="-633.2" y="596.1">9002</text><text x="-633.3" y="596.5">7238</text><text x="-632.9" y="596.9">3290</text><text x="-632.9" y="597.3">1901</text><text x="-633.6" y="597.7">1999</text><text x="-633.1" y="598.1">1995</text><text x="-632.8" y="598.4">4323</text><text x="-633.3" y="598.8">8245</text><text x="-632.8" y="599.2">2121</text><text x="-632.9" y="599.6">5436</text><text x="-633.2" y="600">5848</text><text x="-633.3" y="600.3">2863</text><text x="-633.3" y="600.7">9665</text><text x="-633.4" y="601.1">2859</text><text x="-633.1" y="601.5">2206</text><text x="-632.8" y="601.9">6478</text><text x="-633.4" y="602.3">5692</text><text x="-632.8" y="602.7">9354</text><text x="-633.2" y="603.1">7115</text><text x="-633.1" y="603.5">4249</text><text x="-633.4" y="603.9">2346</text><text x="-633.4" y="604.3">7766</text><text x="-632.9" y="604.7">1151</text><text x="-633.3" y="605.1">6201</text><text x="-633.4" y="605.5">4184</text><text x="-633.2" y="605.8">6684</text><text x="-632.8" y="606.2">4444</text><text x="-633.6" y="606.6">5890</text><text x="-633.3" y="607">7879</text><text x="-632.8" y="607.4">5938</text><text x="-632.9" y="607.8">9067</text><text x="-633.7" y="608.1">1296</text><text x="-632.9" y="608.5">4241</text><text x="-633.1" y="608.9">1425</text><text x="-633.5" y="609.2">7364</text><text x="-633.5" y="609.6">8827</text><text x="-633.3" y="610">9075</text><text x="-633.4" y="610.3">4282</text><text x="-632.7" y="610.7">2969</text><text x="-632.8" y="611.1">7869</text><text x="-633.7" y="611.5">3744</text><text x="-633.5" y="611.9">6861</text><text x="-632.7" y="612.3">4568</text><text x="-632.7" y="612.7">7906</text><text x="-632.9" y="613.1">9413</text><text x="-633.6" y="613.5">7589</text><text x="-632.9" y="613.9">3626</text><text x="-633.4" y="614.3">7676</text><text x="-633.6" y="614.7">4281</text><text x="-633.3" y="615.1">7943</text><text x="-633.6" y="615.4">5596</text><text x="-633" y="615.8">1438</text><text x="-632.9" y="616.2">3661</text><text x="-632.7" y="616.5">9336</text><text x="-633.5" y="616.9">2201</text><text x="-632.8" y="617.3">6571</text><text x="-633.7" y="617.7">9594</text><text x="-633.4" y="618">3042</text><text x="-632.9" y="618.4">8131</text><text x="-633.5" y="618.8">4458</text><text x="-632.9" y="619.1">6432</text><text x="-633.2" y="619.5">6182</text><text x="-632.8" y="619.9">1094</text><text x="-633.5" y="620.2">3985</text><text x="-633.6" y="620.6">1893</text><text x="-633.6" y="621">9153</text><text x="-632.7" y="621.4">8887</text><text x="-633.6" y="621.8">1567</text><text x="-633.3" y="622.2">3657</text><text x="-633.5" y="622.6">4547</text><text x="-633.2" y="623">2644</text><text x="-633.3" y="623.4">5135</text><text x="-633.3" y="623.8">6481</text><text x="-633.5" y="624.2">1170</text><text x="-632.8" y="624.6">2847</text><text x="-632.8" y="625">2142</text><text x="-633.2" y="625.4">4446</text><text x="-633" y="625.8">4252</text><text x="-633.1" y="626.2">7361</text><text x="-632.7" y="626.6">4716</text><text x="-633.4" y="627">6187</text><text x="-632.7" y="627.4">1383</text><text x="-633.5" y="627.8">7629</text><text x="-633.5" y="628.2">1329</text><text x="-633.2" y="628.6">1281</text><text x="-632.8" y="629">8091</text><text x="-633.4" y="629.4">6255</text><text x="-632.9" y="629.8">6086</text><text x="-633.1" y="630.2">9852</text><text x="-632.8" y="630.6">6557</text><text x="-633.7" y="630.9">9986</text><text x="-633.2" y="631.3">3239</text><text x="-633.1" y="631.7">8501</text><text x="-632.8" y="632">9767</text><text x="-633.4" y="632.4">7605</text><text x="-633.5" y="632.8">1293</text><text x="-633.5" y="633.1">6089</text><text x="-632.8" y="633.5">1823</text><text x="-633.1" y="633.9">3052</text><text x="-633" y="634.2">8903</text><text x="-633.5" y="634.6">5262</text><text x="-632.8" y="635">1111</text><text x="-633.3" y="635.4">4552</text><text x="-633.7" y="635.8">2938</text><text x="-633.5" y="636.1">8941</text><text x="-632.7" y="636.5">3355</text><text x="-632.8" y="636.9">1926</text><text x="-632.8" y="637.3">3501</text><text x="-633.4" y="637.7">8367</text><text x="-633.3" y="638.1">6304</text><text x="-633.2" y="638.5">2367</text><text x="-633.2" y="638.8">1986</text><text x="-633.1" y="639.2">1494</text><text x="-633.3" y="639.6">5868</text><text x="-633.3" y="640">5208</text><text x="-633.6" y="640.4">3198</text><text x="-633.4" y="640.7">1692</text><text x="-633.5" y="641.1">4820</text><text x="-633.6" y="641.5">5835</text><text x="-633.5" y="641.8">5373</text><text x="-633.4" y="642.2">2215</text><text x="-632.7" y="642.6">4604</text><text x="-633.4" y="642.9">9911</text><text x="-633.5" y="643.3">5191</text><text x="-633.1" y="643.7">2076</text><text x="-633.6" y="644.1">3405</text><text x="-632.9" y="644.5">4330</text><text x="-633.6" y="644.9">5729</text><text x="-633.1" y="645.3">3361</text><text x="-633.4" y="645.7">3245</text><text x="-633" y="646.1">2993</text><text x="-633" y="646.5">7028</text><text x="-633" y="646.9">1719</text><text x="-633" y="647.3">7065</text><text x="-632.8" y="647.7">5475</text><text x="-633.1" y="648.1">9632</text><text x="-633.7" y="648.5">8237</text><text x="-633.4" y="648.9">4720</text><text x="-633.6" y="649.3">5996</text><text x="-633.5" y="649.7">8880</text><text x="-633.5" y="650.1">5670</text><text x="-633.7" y="650.4">8497</text><text x="-633.5" y="650.8">6327</text><text x="-633" y="651.2">4167</text><text x="-632.9" y="651.5">2648</text><text x="-633.1" y="651.9">9162</text><text x="-632.7" y="652.2">6819</text><text x="-632.9" y="652.6">4004</text><text x="-633.6" y="653">9222</text><text x="-633.6" y="653.3">5489</text><text x="-633" y="653.7">3487</text><text x="-633.5" y="654.1">6020</text><text x="-633.5" y="654.6">4914</text><text x="-633.6" y="655">4841</text><text x="-633.5" y="655.4">8636</text><text x="-633.2" y="655.8">3543</text><text x="-632.8" y="656.2">1253</text><text x="-633.5" y="656.6">8891</text><text x="-633" y="657">9048</text><text x="-633.3" y="657.3">8124</text><text x="-633.1" y="657.7">2546</text><text x="-633.2" y="658.1">5197</text><text x="-633.7" y="658.5">5472</text><text x="-632.9" y="658.9">9348</text><text x="-633.2" y="659.3">5797</text><text x="-633.3" y="659.6">4247</text><text x="-633.2" y="660">1097</text><text x="-633.6" y="660.4">3888</text><text x="-633.1" y="660.8">2329</text><text x="-633.6" y="661.1">8060</text><text x="-633.4" y="661.5">2954</text><text x="-633.7" y="661.9">9878</text><text x="-632.8" y="662.3">5560</text><text x="-632.9" y="662.6">3666</text><text x="-633" y="663">9129</text><text x="-633.6" y="663.4">3211</text><text x="-632.7" y="663.8">3333</text><text x="-633" y="664.2">2770</text><text x="-633.4" y="664.6">3420</text><text x="-633.7" y="665">1466</text><text x="-632.9" y="665.4">8709</text><text x="-633.1" y="665.7">8511</text><text x="-633.4" y="666.1">2298</text><text x="-633.4" y="666.5">5514</text><text x="-633.4" y="666.9">1547</text><text x="-633.5" y="667.3">5963</text><text x="-632.9" y="667.7">3850</text><text x="-633" y="668.1">9407</text><text x="-632.7" y="668.5">6388</text><text x="-633.4" y="668.9">1508</text><text x="-632.9" y="669.2">5235</text><text x="-633" y="669.6">9985</text><text x="-633.7" y="670">7834</text><text x="-633.3" y="670.4">4603</text><text x="-633.3" y="670.8">3900</text><text x="-633.4" y="671.2">7024</text><text x="-633.3" y="671.6">7249</text><text x="-633.4" y="672">8470</text><text x="-633" y="672.3">5267</text><text x="-632.8" y="672.7">2844</text><text x="-632.8" y="673.1">8535</text><text x="-632.7" y="673.4">7050</text><text x="-633.1" y="673.8">2265</text><text x="-632.8" y="674.2">4414</text><text x="-632.8" y="674.6">3760</text><text x="-633.2" y="674.9">8458</text><text x="-633.7" y="675.3">3887</text><text x="-633.4" y="675.7">2149</text><text x="-633" y="676">6532</text><text x="-633.5" y="676.4">2658</text><text x="-632.9" y="676.8">6048</text><text x="-632.8" y="677.2">6003</text><text x="-633" y="677.6">7963</text><text x="-633.1" y="678">8412</text><text x="-633.4" y="678.4">7727</text><text x="-633.1" y="678.8">7872</text><text x="-633.4" y="679.2">5241</text><text x="-632.8" y="679.6">1778</text><text x="-633.6" y="680">9629</text><text x="-633" y="680.4">8014</text><text x="-633.5" y="680.8">7088</text><text x="-632.7" y="681.1">7223</text><text x="-633.5" y="681.5">9533</text><text x="-632.9" y="681.9">3201</text><text x="-633.6" y="682.3">9259</text><text x="-633.5" y="682.7">6166</text><text x="-633.4" y="683">6804</text><text x="-633" y="683.4">6178</text><text x="-632.7" y="683.8">6763</text><text x="-632.9" y="684.2">2042</text><text x="-633.6" y="684.6">4383</text><text x="-632.9" y="684.9">9739</text><text x="-633.4" y="685.3">1035</text><text x="-633.3" y="685.7">9989</text></g></svg></body></html>
